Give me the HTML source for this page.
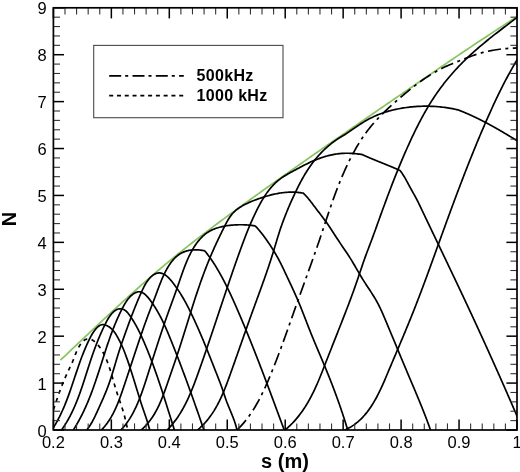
<!DOCTYPE html>
<html><head><meta charset="utf-8"><title>N vs s</title>
<style>html,body{margin:0;padding:0;background:#fff;width:520px;height:472px;overflow:hidden}svg{display:block}</style>
</head><body>
<svg width="520" height="472" viewBox="0 0 520 472">
<defs><clipPath id="cp"><rect x="53.4" y="7.8" width="463.6" height="422.2"/></clipPath></defs>
<g clip-path="url(#cp)" fill="none" stroke="#000" stroke-width="1.7" stroke-linejoin="round">
<path d="M60.50,360.16 L62.80,357.98 L65.10,355.79 L67.40,353.61 L69.70,351.42 L71.99,349.24 L74.29,347.06 L76.59,344.88 L78.89,342.70 L81.19,340.53 L83.49,338.35 L85.79,336.18 L88.09,334.01 L90.39,331.85 L92.69,329.68 L94.98,327.52 L97.28,325.37 L99.58,323.22 L101.88,321.07 L104.18,318.93 L106.48,316.79 L108.78,314.66 L111.08,312.53 L113.38,310.41 L115.68,308.29 L117.97,306.18 L120.27,304.08 L122.57,301.98 L124.87,299.89 L127.17,297.81 L129.47,295.73 L131.77,293.66 L134.07,291.60 L136.37,289.55 L138.67,287.50 L140.96,285.47 L143.26,283.44 L145.56,281.42 L147.86,279.41 L150.16,277.41 L152.46,275.42 L154.76,273.44 L157.06,271.47 L159.36,269.51 L161.66,267.57 L163.95,265.63 L166.25,263.70 L168.55,261.79 L170.85,259.89 L173.15,258.00 L175.45,256.12 L177.75,254.25 L180.05,252.39 L182.35,250.55 L184.65,248.71 L186.94,246.89 L189.24,245.07 L191.54,243.27 L193.84,241.47 L196.14,239.68 L198.44,237.90 L200.74,236.13 L203.04,234.37 L205.34,232.62 L207.64,230.87 L209.93,229.13 L212.23,227.40 L214.53,225.68 L216.83,223.96 L219.13,222.25 L221.43,220.54 L223.73,218.84 L226.03,217.15 L228.33,215.46 L230.63,213.77 L232.92,212.09 L235.22,210.42 L237.52,208.75 L239.82,207.08 L242.12,205.41 L244.42,203.75 L246.72,202.10 L249.02,200.44 L251.32,198.79 L253.62,197.14 L255.91,195.49 L258.21,193.85 L260.51,192.20 L262.81,190.56 L265.11,188.92 L267.41,187.29 L269.71,185.65 L272.01,184.02 L274.31,182.39 L276.61,180.76 L278.90,179.13 L281.20,177.50 L283.50,175.88 L285.80,174.26 L288.10,172.64 L290.40,171.02 L292.70,169.40 L295.00,167.79 L297.30,166.17 L299.60,164.56 L301.89,162.95 L304.19,161.34 L306.49,159.73 L308.79,158.12 L311.09,156.52 L313.39,154.92 L315.69,153.31 L317.99,151.71 L320.29,150.11 L322.59,148.51 L324.88,146.91 L327.18,145.32 L329.48,143.72 L331.78,142.13 L334.08,140.53 L336.38,138.94 L338.68,137.35 L340.98,135.76 L343.28,134.17 L345.58,132.58 L347.87,130.99 L350.17,129.40 L352.47,127.81 L354.77,126.23 L357.07,124.64 L359.37,123.06 L361.67,121.47 L363.97,119.89 L366.27,118.30 L368.57,116.72 L370.86,115.14 L373.16,113.55 L375.46,111.97 L377.76,110.39 L380.06,108.81 L382.36,107.23 L384.66,105.65 L386.96,104.06 L389.26,102.48 L391.56,100.90 L393.85,99.32 L396.15,97.74 L398.45,96.16 L400.75,94.58 L403.05,93.00 L405.35,91.42 L407.65,89.84 L409.95,88.26 L412.25,86.68 L414.55,85.10 L416.84,83.53 L419.14,81.95 L421.44,80.37 L423.74,78.80 L426.04,77.23 L428.34,75.65 L430.64,74.08 L432.94,72.51 L435.24,70.94 L437.54,69.38 L439.83,67.81 L442.13,66.25 L444.43,64.68 L446.73,63.12 L449.03,61.56 L451.33,60.01 L453.63,58.45 L455.93,56.90 L458.23,55.35 L460.53,53.80 L462.82,52.25 L465.12,50.71 L467.42,49.17 L469.72,47.63 L472.02,46.09 L474.32,44.56 L476.62,43.03 L478.92,41.50 L481.22,39.98 L483.52,38.46 L485.81,36.94 L488.11,35.42 L490.41,33.91 L492.71,32.40 L495.01,30.89 L497.31,29.39 L499.61,27.89 L501.91,26.40 L504.21,24.91 L506.51,23.42 L508.80,21.94 L511.10,20.46 L513.40,18.98 L515.70,17.51 L518.00,16.04" stroke="#86c45e" stroke-width="1.7"/>
<path d="M51.80,429.99 L52.24,429.34 L52.67,428.68 L53.10,428.02 L53.53,427.36 L53.95,426.69 L54.36,426.02 L54.78,425.35 L55.18,424.67 L55.59,423.99 L55.98,423.30 L56.38,422.61 L56.77,421.92 L57.15,421.23 L57.53,420.53 L57.91,419.83 L58.28,419.13 L58.65,418.43 L59.02,417.72 L59.38,417.01 L59.74,416.30 L60.09,415.58 L60.44,414.86 L60.79,414.14 L61.13,413.42 L61.47,412.70 L61.80,411.97 L62.14,411.24 L62.47,410.51 L62.79,409.78 L63.11,409.05 L63.43,408.31 L63.75,407.57 L64.06,406.83 L64.38,406.09 L64.68,405.35 L64.99,404.61 L65.29,403.87 L65.59,403.12 L65.89,402.37 L66.18,401.63 L66.47,400.88 L66.76,400.13 L67.05,399.38 L67.34,398.63 L67.62,397.88 L67.90,397.13 L68.18,396.37 L68.45,395.62 L68.73,394.87 L69.00,394.11 L69.27,393.36 L69.54,392.60 L69.81,391.85 L70.07,391.10 L70.33,390.34 L70.60,389.59 L70.86,388.83 L71.12,388.08 L71.37,387.33 L71.63,386.57 L71.89,385.82 L72.14,385.07 L72.39,384.32 L72.64,383.57 L72.89,382.82 L73.14,382.07 L73.39,381.32 L73.64,380.57 L73.89,379.83 L74.14,379.08 L74.38,378.33 L74.63,377.59 L74.88,376.84 L75.12,376.10 L75.37,375.35 L75.62,374.61 L75.87,373.86 L76.11,373.12 L76.36,372.38 L76.61,371.63 L76.86,370.89 L77.11,370.15 L77.36,369.41 L77.61,368.67 L77.86,367.92 L78.12,367.18 L78.37,366.44 L78.63,365.70 L78.89,364.96 L79.14,364.22 L79.41,363.48 L79.67,362.74 L79.93,361.99 L80.20,361.25 L80.47,360.51 L80.74,359.77 L81.01,359.03 L81.29,358.29 L81.56,357.55 L81.84,356.81 L82.13,356.06 L82.41,355.32 L82.70,354.58 L82.99,353.84 L83.29,353.10 L83.58,352.35 L83.88,351.61 L84.19,350.87 L84.50,350.12 L84.81,349.38 L85.12,348.63 L85.44,347.89 L85.76,347.14 L86.09,346.40 L86.42,345.65 L86.75,344.90 L87.09,344.16 L87.43,343.41 L87.78,342.66 L88.13,341.91 L88.49,341.16 L88.85,340.41 L89.21,339.66 L89.59,338.91 L89.96,338.16 L90.34,337.41 L90.73,336.67 L91.13,335.93 L91.54,335.20 L91.95,334.48 L92.37,333.76 L92.80,333.06 L93.25,332.37 L93.70,331.69 L94.16,331.03 L94.64,330.38 L95.13,329.75 L95.63,329.15 L96.15,328.56 L96.68,328.00 L97.23,327.45 L97.79,326.94 L98.37,326.45 L98.96,326.00 L99.57,325.59 L100.20,325.25 L100.85,324.98 L101.52,324.78 L102.20,324.67 L102.90,324.64 L103.61,324.67 L104.32,324.78 L105.04,324.94 L105.76,325.17 L106.48,325.45 L107.20,325.78 L107.91,326.15 L108.61,326.57 L109.30,327.03 L109.97,327.52 L110.63,328.04 L111.26,328.58 L111.87,329.14 L112.45,329.73 L113.01,330.32 L113.53,330.93 L114.02,331.54 L114.49,332.16 L114.94,332.80 L115.37,333.44 L115.79,334.08 L116.19,334.74 L116.58,335.40 L116.97,336.07 L117.35,336.75 L117.73,337.44 L118.11,338.13 L118.49,338.82 L118.87,339.53 L119.24,340.23 L119.61,340.95 L119.97,341.67 L120.33,342.39 L120.69,343.11 L121.04,343.85 L121.38,344.58 L121.72,345.32 L122.05,346.06 L122.38,346.80 L122.70,347.55 L123.01,348.30 L123.32,349.05 L123.63,349.80 L123.93,350.55 L124.23,351.30 L124.52,352.06 L124.81,352.81 L125.10,353.57 L125.39,354.32 L125.67,355.08 L125.95,355.83 L126.23,356.59 L126.51,357.34 L126.78,358.10 L127.05,358.85 L127.32,359.61 L127.59,360.36 L127.85,361.12 L128.11,361.87 L128.37,362.62 L128.63,363.38 L128.89,364.13 L129.14,364.89 L129.39,365.64 L129.65,366.40 L129.90,367.15 L130.14,367.91 L130.39,368.66 L130.64,369.42 L130.88,370.17 L131.12,370.93 L131.36,371.68 L131.60,372.43 L131.84,373.19 L132.08,373.94 L132.32,374.70 L132.56,375.45 L132.79,376.21 L133.03,376.96 L133.26,377.72 L133.49,378.47 L133.72,379.23 L133.96,379.98 L134.19,380.74 L134.42,381.49 L134.65,382.25 L134.88,383.00 L135.11,383.76 L135.34,384.51 L135.57,385.27 L135.80,386.02 L136.03,386.78 L136.26,387.53 L136.49,388.29 L136.72,389.04 L136.95,389.80 L137.18,390.55 L137.42,391.31 L137.65,392.07 L137.88,392.82 L138.11,393.58 L138.35,394.33 L138.58,395.09 L138.82,395.85 L139.05,396.60 L139.29,397.36 L139.53,398.11 L139.77,398.87 L140.01,399.63 L140.25,400.38 L140.49,401.14 L140.74,401.90 L140.98,402.66 L141.23,403.41 L141.48,404.17 L141.73,404.93 L141.98,405.68 L142.23,406.44 L142.48,407.20 L142.74,407.96 L143.00,408.72 L143.26,409.47 L143.51,410.23 L143.77,410.99 L144.03,411.75 L144.29,412.51 L144.55,413.27 L144.81,414.03 L145.07,414.78 L145.32,415.54 L145.58,416.30 L145.83,417.06 L146.08,417.82 L146.33,418.58 L146.58,419.34 L146.83,420.10 L147.07,420.86 L147.31,421.62 L147.55,422.38 L147.78,423.14 L148.01,423.91 L148.24,424.67 L148.46,425.43 L148.68,426.19 L148.89,426.95 L149.10,427.71 L149.30,428.48 L149.50,429.24 L149.70,430.00"/>
<path d="M61.51,430.01 L62.04,429.26 L62.57,428.51 L63.09,427.75 L63.60,426.99 L64.10,426.23 L64.60,425.46 L65.09,424.70 L65.58,423.92 L66.06,423.15 L66.53,422.37 L66.99,421.59 L67.45,420.80 L67.91,420.01 L68.35,419.22 L68.79,418.42 L69.23,417.63 L69.66,416.83 L70.08,416.02 L70.50,415.22 L70.91,414.41 L71.32,413.60 L71.72,412.78 L72.11,411.96 L72.50,411.14 L72.89,410.32 L73.27,409.50 L73.65,408.67 L74.02,407.84 L74.39,407.01 L74.75,406.18 L75.11,405.34 L75.47,404.51 L75.82,403.67 L76.17,402.83 L76.51,401.98 L76.85,401.14 L77.18,400.29 L77.52,399.44 L77.85,398.59 L78.17,397.74 L78.49,396.89 L78.81,396.04 L79.13,395.18 L79.44,394.32 L79.75,393.46 L80.06,392.60 L80.37,391.74 L80.67,390.88 L80.97,390.02 L81.27,389.15 L81.57,388.29 L81.86,387.42 L82.16,386.56 L82.45,385.69 L82.74,384.82 L83.02,383.95 L83.31,383.08 L83.60,382.21 L83.88,381.34 L84.16,380.47 L84.45,379.60 L84.73,378.72 L85.01,377.85 L85.29,376.98 L85.57,376.11 L85.84,375.23 L86.12,374.36 L86.40,373.49 L86.68,372.62 L86.96,371.74 L87.23,370.87 L87.51,370.00 L87.79,369.13 L88.07,368.25 L88.35,367.38 L88.63,366.51 L88.91,365.64 L89.19,364.77 L89.48,363.90 L89.76,363.04 L90.04,362.17 L90.33,361.30 L90.62,360.44 L90.91,359.57 L91.20,358.71 L91.49,357.84 L91.79,356.98 L92.08,356.12 L92.38,355.26 L92.68,354.40 L92.98,353.54 L93.28,352.68 L93.59,351.83 L93.90,350.97 L94.21,350.12 L94.52,349.26 L94.83,348.41 L95.15,347.56 L95.47,346.71 L95.79,345.86 L96.12,345.01 L96.44,344.16 L96.77,343.32 L97.10,342.47 L97.44,341.63 L97.78,340.78 L98.12,339.94 L98.46,339.10 L98.81,338.26 L99.16,337.42 L99.51,336.58 L99.86,335.75 L100.22,334.91 L100.59,334.08 L100.95,333.24 L101.32,332.41 L101.69,331.58 L102.07,330.75 L102.45,329.92 L102.83,329.09 L103.22,328.26 L103.61,327.44 L104.00,326.61 L104.40,325.79 L104.80,324.97 L105.21,324.14 L105.62,323.32 L106.03,322.50 L106.45,321.69 L106.88,320.88 L107.32,320.07 L107.77,319.27 L108.23,318.47 L108.71,317.69 L109.21,316.92 L109.73,316.16 L110.28,315.41 L110.84,314.68 L111.44,313.96 L112.06,313.27 L112.72,312.59 L113.41,311.93 L114.14,311.30 L114.90,310.70 L115.69,310.15 L116.53,309.67 L117.39,309.28 L118.29,309.01 L119.22,308.85 L120.15,308.80 L121.09,308.86 L122.01,309.01 L122.89,309.25 L123.73,309.58 L124.51,309.97 L125.23,310.44 L125.91,310.96 L126.54,311.53 L127.14,312.14 L127.71,312.79 L128.25,313.46 L128.78,314.16 L129.30,314.87 L129.81,315.58 L130.32,316.30 L130.82,317.03 L131.32,317.76 L131.81,318.51 L132.29,319.25 L132.77,320.01 L133.25,320.77 L133.71,321.53 L134.18,322.30 L134.64,323.08 L135.09,323.86 L135.54,324.65 L135.98,325.44 L136.42,326.24 L136.85,327.04 L137.28,327.84 L137.71,328.65 L138.13,329.47 L138.55,330.28 L138.96,331.11 L139.37,331.93 L139.78,332.76 L140.18,333.59 L140.58,334.42 L140.97,335.26 L141.36,336.09 L141.75,336.94 L142.13,337.78 L142.51,338.62 L142.89,339.47 L143.26,340.32 L143.64,341.17 L144.01,342.02 L144.37,342.87 L144.74,343.72 L145.10,344.57 L145.46,345.43 L145.81,346.28 L146.17,347.13 L146.52,347.99 L146.87,348.84 L147.22,349.69 L147.57,350.55 L147.91,351.40 L148.25,352.25 L148.59,353.11 L148.93,353.96 L149.27,354.82 L149.60,355.67 L149.93,356.53 L150.26,357.38 L150.59,358.23 L150.92,359.09 L151.25,359.94 L151.57,360.80 L151.89,361.65 L152.21,362.51 L152.53,363.37 L152.85,364.22 L153.16,365.08 L153.48,365.93 L153.79,366.79 L154.10,367.64 L154.41,368.50 L154.72,369.36 L155.02,370.21 L155.33,371.07 L155.63,371.93 L155.94,372.79 L156.24,373.64 L156.54,374.50 L156.83,375.36 L157.13,376.22 L157.43,377.07 L157.72,377.93 L158.02,378.79 L158.31,379.65 L158.60,380.51 L158.89,381.37 L159.18,382.23 L159.47,383.09 L159.76,383.95 L160.05,384.81 L160.33,385.67 L160.62,386.53 L160.90,387.39 L161.19,388.25 L161.47,389.11 L161.75,389.98 L162.03,390.84 L162.31,391.70 L162.59,392.56 L162.87,393.43 L163.15,394.29 L163.43,395.15 L163.71,396.02 L163.98,396.88 L164.26,397.75 L164.54,398.61 L164.81,399.48 L165.09,400.34 L165.36,401.21 L165.64,402.08 L165.91,402.94 L166.18,403.81 L166.46,404.68 L166.73,405.54 L167.00,406.41 L167.28,407.28 L167.55,408.15 L167.82,409.02 L168.09,409.89 L168.37,410.76 L168.64,411.63 L168.91,412.50 L169.18,413.37 L169.46,414.24 L169.73,415.11 L170.00,415.99 L170.27,416.86 L170.55,417.73 L170.82,418.61 L171.09,419.48 L171.37,420.36 L171.64,421.23 L171.91,422.11 L172.19,422.98 L172.46,423.86 L172.74,424.73 L173.01,425.61 L173.29,426.49 L173.57,427.37 L173.84,428.25 L174.12,429.12 L174.40,430.00"/>
<path d="M73.30,430.00 L73.87,429.12 L74.43,428.23 L74.98,427.33 L75.52,426.44 L76.06,425.54 L76.60,424.64 L77.12,423.74 L77.64,422.83 L78.15,421.93 L78.66,421.01 L79.16,420.10 L79.66,419.19 L80.15,418.27 L80.63,417.35 L81.11,416.43 L81.58,415.50 L82.05,414.58 L82.51,413.65 L82.97,412.71 L83.42,411.78 L83.87,410.84 L84.31,409.91 L84.74,408.96 L85.18,408.02 L85.60,407.08 L86.03,406.13 L86.44,405.18 L86.86,404.23 L87.27,403.27 L87.67,402.32 L88.07,401.36 L88.47,400.40 L88.86,399.44 L89.25,398.47 L89.64,397.51 L90.02,396.54 L90.40,395.57 L90.77,394.60 L91.15,393.62 L91.51,392.65 L91.88,391.67 L92.24,390.69 L92.60,389.71 L92.96,388.73 L93.31,387.75 L93.66,386.76 L94.01,385.78 L94.36,384.79 L94.70,383.81 L95.05,382.82 L95.39,381.83 L95.72,380.84 L96.06,379.85 L96.39,378.85 L96.73,377.86 L97.06,376.87 L97.39,375.87 L97.71,374.88 L98.04,373.88 L98.36,372.89 L98.69,371.89 L99.01,370.90 L99.33,369.90 L99.65,368.90 L99.97,367.91 L100.29,366.91 L100.61,365.91 L100.93,364.92 L101.25,363.92 L101.56,362.92 L101.88,361.93 L102.20,360.93 L102.52,359.94 L102.83,358.94 L103.15,357.95 L103.47,356.95 L103.79,355.96 L104.11,354.97 L104.43,353.97 L104.75,352.98 L105.07,351.99 L105.39,351.00 L105.71,350.01 L106.04,349.03 L106.36,348.04 L106.69,347.05 L107.01,346.07 L107.34,345.09 L107.67,344.11 L108.01,343.13 L108.34,342.15 L108.68,341.17 L109.02,340.19 L109.36,339.22 L109.70,338.24 L110.05,337.27 L110.39,336.29 L110.75,335.32 L111.10,334.35 L111.46,333.38 L111.82,332.41 L112.18,331.45 L112.55,330.48 L112.92,329.51 L113.30,328.55 L113.68,327.58 L114.06,326.62 L114.45,325.66 L114.84,324.69 L115.24,323.73 L115.64,322.77 L116.04,321.81 L116.45,320.85 L116.87,319.89 L117.29,318.94 L117.71,317.98 L118.15,317.02 L118.58,316.07 L119.02,315.11 L119.47,314.16 L119.93,313.20 L120.39,312.25 L120.85,311.30 L121.33,310.34 L121.81,309.39 L122.29,308.44 L122.78,307.49 L123.29,306.54 L123.80,305.60 L124.32,304.67 L124.86,303.74 L125.42,302.83 L125.99,301.93 L126.58,301.05 L127.19,300.18 L127.83,299.33 L128.49,298.51 L129.17,297.71 L129.88,296.94 L130.62,296.19 L131.39,295.48 L132.20,294.80 L133.03,294.16 L133.89,293.57 L134.77,293.04 L135.66,292.59 L136.56,292.22 L137.46,291.94 L138.35,291.77 L139.24,291.73 L140.11,291.81 L140.97,292.01 L141.81,292.33 L142.63,292.74 L143.44,293.23 L144.23,293.79 L145.01,294.41 L145.77,295.09 L146.52,295.82 L147.25,296.60 L147.97,297.41 L148.68,298.25 L149.37,299.12 L150.05,300.01 L150.71,300.91 L151.36,301.82 L152.01,302.73 L152.63,303.65 L153.25,304.56 L153.86,305.47 L154.45,306.39 L155.03,307.30 L155.61,308.22 L156.17,309.13 L156.72,310.05 L157.26,310.97 L157.80,311.89 L158.32,312.81 L158.83,313.73 L159.34,314.66 L159.84,315.58 L160.33,316.50 L160.81,317.43 L161.29,318.36 L161.76,319.28 L162.22,320.21 L162.67,321.14 L163.12,322.07 L163.56,323.00 L164.00,323.94 L164.43,324.87 L164.86,325.81 L165.28,326.74 L165.70,327.68 L166.11,328.62 L166.52,329.56 L166.92,330.50 L167.33,331.44 L167.73,332.38 L168.12,333.33 L168.52,334.27 L168.91,335.22 L169.30,336.16 L169.69,337.11 L170.08,338.06 L170.46,339.01 L170.85,339.96 L171.23,340.92 L171.62,341.87 L172.00,342.83 L172.38,343.78 L172.77,344.74 L173.15,345.70 L173.53,346.66 L173.91,347.62 L174.29,348.58 L174.67,349.55 L175.05,350.51 L175.43,351.48 L175.81,352.44 L176.19,353.41 L176.57,354.38 L176.94,355.34 L177.32,356.31 L177.69,357.28 L178.07,358.25 L178.44,359.23 L178.82,360.20 L179.19,361.17 L179.56,362.15 L179.94,363.12 L180.31,364.10 L180.68,365.07 L181.05,366.05 L181.42,367.03 L181.79,368.01 L182.16,368.99 L182.53,369.96 L182.89,370.94 L183.26,371.93 L183.63,372.91 L183.99,373.89 L184.36,374.87 L184.72,375.85 L185.09,376.83 L185.45,377.82 L185.81,378.80 L186.18,379.79 L186.54,380.77 L186.90,381.76 L187.26,382.74 L187.62,383.73 L187.98,384.71 L188.34,385.70 L188.70,386.68 L189.06,387.67 L189.41,388.66 L189.77,389.64 L190.13,390.63 L190.48,391.62 L190.84,392.60 L191.19,393.59 L191.54,394.58 L191.90,395.57 L192.25,396.55 L192.60,397.54 L192.95,398.53 L193.30,399.52 L193.66,400.50 L194.00,401.49 L194.35,402.48 L194.70,403.46 L195.05,404.45 L195.40,405.44 L195.74,406.42 L196.09,407.41 L196.44,408.40 L196.78,409.38 L197.13,410.37 L197.47,411.35 L197.81,412.34 L198.16,413.32 L198.50,414.31 L198.84,415.29 L199.18,416.28 L199.52,417.26 L199.86,418.24 L200.20,419.23 L200.54,420.21 L200.88,421.19 L201.21,422.17 L201.55,423.15 L201.89,424.13 L202.22,425.11 L202.56,426.09 L202.89,427.07 L203.22,428.04 L203.56,429.02 L203.89,430.00"/>
<path d="M86.80,430.01 L87.55,429.02 L88.27,428.03 L88.97,427.03 L89.64,426.02 L90.28,425.02 L90.90,424.00 L91.50,422.99 L92.09,421.97 L92.65,420.94 L93.20,419.91 L93.74,418.88 L94.26,417.84 L94.78,416.80 L95.28,415.75 L95.78,414.70 L96.27,413.65 L96.76,412.59 L97.24,411.53 L97.73,410.47 L98.21,409.40 L98.70,408.33 L99.19,407.26 L99.67,406.18 L100.16,405.10 L100.65,404.02 L101.13,402.93 L101.62,401.85 L102.10,400.76 L102.58,399.66 L103.06,398.57 L103.53,397.47 L104.00,396.37 L104.47,395.26 L104.93,394.16 L105.39,393.05 L105.84,391.94 L106.29,390.83 L106.74,389.72 L107.17,388.60 L107.60,387.49 L108.02,386.37 L108.44,385.25 L108.85,384.13 L109.25,383.00 L109.64,381.88 L110.03,380.75 L110.41,379.63 L110.78,378.50 L111.15,377.37 L111.51,376.24 L111.87,375.11 L112.22,373.98 L112.57,372.84 L112.92,371.71 L113.26,370.58 L113.60,369.44 L113.94,368.31 L114.28,367.17 L114.62,366.04 L114.95,364.90 L115.29,363.76 L115.62,362.63 L115.96,361.49 L116.30,360.35 L116.64,359.22 L116.98,358.08 L117.32,356.95 L117.67,355.81 L118.02,354.67 L118.37,353.54 L118.73,352.40 L119.09,351.27 L119.45,350.13 L119.82,349.00 L120.20,347.87 L120.57,346.73 L120.95,345.60 L121.34,344.47 L121.72,343.34 L122.11,342.22 L122.50,341.09 L122.89,339.96 L123.29,338.84 L123.68,337.71 L124.08,336.59 L124.48,335.47 L124.88,334.35 L125.28,333.23 L125.68,332.12 L126.08,331.00 L126.48,329.89 L126.88,328.78 L127.28,327.67 L127.68,326.56 L128.09,325.45 L128.49,324.35 L128.90,323.24 L129.30,322.14 L129.71,321.04 L130.12,319.94 L130.53,318.84 L130.94,317.74 L131.36,316.64 L131.78,315.54 L132.19,314.44 L132.62,313.34 L133.04,312.25 L133.47,311.15 L133.90,310.05 L134.33,308.96 L134.77,307.86 L135.21,306.76 L135.65,305.67 L136.10,304.57 L136.55,303.47 L137.00,302.37 L137.46,301.28 L137.93,300.18 L138.39,299.08 L138.87,297.98 L139.34,296.87 L139.82,295.77 L140.31,294.67 L140.80,293.56 L141.30,292.46 L141.80,291.35 L142.31,290.24 L142.83,289.14 L143.36,288.03 L143.90,286.94 L144.46,285.85 L145.04,284.77 L145.65,283.71 L146.29,282.66 L146.96,281.64 L147.66,280.64 L148.40,279.66 L149.19,278.71 L150.01,277.80 L150.88,276.93 L151.78,276.11 L152.71,275.36 L153.67,274.69 L154.66,274.12 L155.66,273.64 L156.69,273.27 L157.73,273.03 L158.78,272.93 L159.83,272.95 L160.88,273.10 L161.92,273.36 L162.95,273.73 L163.95,274.20 L164.91,274.76 L165.85,275.39 L166.76,276.10 L167.64,276.86 L168.50,277.68 L169.34,278.55 L170.15,279.45 L170.95,280.38 L171.73,281.32 L172.50,282.28 L173.25,283.24 L173.99,284.21 L174.72,285.18 L175.44,286.16 L176.15,287.14 L176.84,288.13 L177.53,289.12 L178.20,290.12 L178.86,291.12 L179.52,292.13 L180.16,293.14 L180.79,294.16 L181.42,295.18 L182.04,296.20 L182.64,297.23 L183.24,298.26 L183.83,299.29 L184.42,300.33 L185.00,301.37 L185.57,302.41 L186.13,303.46 L186.69,304.51 L187.24,305.56 L187.79,306.61 L188.33,307.67 L188.87,308.73 L189.40,309.79 L189.93,310.85 L190.45,311.91 L190.97,312.98 L191.49,314.04 L192.00,315.11 L192.51,316.17 L193.02,317.24 L193.52,318.31 L194.02,319.39 L194.52,320.46 L195.02,321.53 L195.51,322.61 L196.00,323.68 L196.48,324.76 L196.97,325.84 L197.45,326.92 L197.93,328.00 L198.40,329.08 L198.88,330.16 L199.35,331.25 L199.82,332.33 L200.28,333.42 L200.75,334.50 L201.21,335.59 L201.67,336.68 L202.13,337.77 L202.59,338.86 L203.05,339.95 L203.50,341.05 L203.95,342.14 L204.41,343.23 L204.86,344.33 L205.30,345.42 L205.75,346.52 L206.20,347.62 L206.64,348.72 L207.09,349.81 L207.53,350.91 L207.97,352.02 L208.41,353.12 L208.86,354.22 L209.30,355.32 L209.74,356.42 L210.18,357.53 L210.61,358.63 L211.05,359.74 L211.49,360.85 L211.93,361.95 L212.37,363.06 L212.80,364.17 L213.24,365.28 L213.68,366.38 L214.12,367.49 L214.56,368.60 L215.00,369.71 L215.44,370.82 L215.88,371.94 L216.32,373.05 L216.76,374.16 L217.20,375.27 L217.63,376.39 L218.07,377.50 L218.51,378.61 L218.94,379.73 L219.37,380.84 L219.80,381.96 L220.22,383.07 L220.64,384.19 L221.05,385.30 L221.46,386.42 L221.86,387.54 L222.25,388.65 L222.64,389.77 L223.02,390.89 L223.39,392.00 L223.76,393.12 L224.12,394.24 L224.49,395.36 L224.85,396.48 L225.22,397.59 L225.61,398.71 L226.00,399.83 L226.41,400.95 L226.82,402.07 L227.26,403.18 L227.70,404.30 L228.15,405.42 L228.60,406.54 L229.07,407.66 L229.53,408.78 L230.00,409.89 L230.47,411.01 L230.93,412.13 L231.39,413.25 L231.85,414.37 L232.31,415.48 L232.75,416.60 L233.19,417.72 L233.61,418.84 L234.02,419.95 L234.42,421.07 L234.80,422.19 L235.17,423.30 L235.51,424.42 L235.84,425.54 L236.14,426.65 L236.42,427.77 L236.67,428.88 L236.90,430.00"/>
<path d="M101.41,430.01 L101.93,429.48 L102.43,428.94 L102.93,428.40 L103.43,427.85 L103.91,427.30 L104.39,426.74 L104.86,426.18 L105.32,425.61 L105.77,425.04 L106.22,424.46 L106.66,423.88 L107.10,423.29 L107.52,422.70 L107.94,422.11 L108.36,421.50 L108.77,420.90 L109.17,420.29 L109.56,419.68 L109.95,419.06 L110.34,418.44 L110.71,417.82 L111.09,417.19 L111.45,416.56 L111.81,415.92 L112.17,415.28 L112.52,414.64 L112.87,413.99 L113.21,413.35 L113.54,412.69 L113.87,412.04 L114.20,411.38 L114.52,410.72 L114.84,410.06 L115.15,409.39 L115.46,408.72 L115.77,408.05 L116.07,407.38 L116.37,406.70 L116.66,406.02 L116.95,405.34 L117.24,404.66 L117.52,403.98 L117.80,403.29 L118.08,402.60 L118.35,401.91 L118.62,401.22 L118.89,400.53 L119.16,399.84 L119.42,399.14 L119.68,398.44 L119.94,397.75 L120.20,397.05 L120.45,396.35 L120.70,395.65 L120.95,394.95 L121.20,394.24 L121.45,393.54 L121.70,392.84 L121.94,392.14 L122.18,391.43 L122.43,390.73 L122.67,390.02 L122.91,389.32 L123.15,388.62 L123.39,387.91 L123.62,387.21 L123.86,386.50 L124.10,385.80 L124.34,385.10 L124.57,384.39 L124.81,383.69 L125.05,382.99 L125.28,382.29 L125.52,381.58 L125.75,380.88 L125.99,380.18 L126.22,379.48 L126.45,378.78 L126.69,378.08 L126.92,377.38 L127.15,376.68 L127.39,375.98 L127.62,375.28 L127.85,374.58 L128.08,373.88 L128.32,373.18 L128.55,372.48 L128.78,371.78 L129.01,371.08 L129.24,370.38 L129.47,369.69 L129.70,368.99 L129.93,368.29 L130.16,367.59 L130.39,366.89 L130.62,366.20 L130.85,365.50 L131.08,364.80 L131.31,364.11 L131.54,363.41 L131.77,362.71 L132.00,362.02 L132.23,361.32 L132.46,360.62 L132.69,359.93 L132.92,359.23 L133.15,358.54 L133.38,357.84 L133.61,357.15 L133.84,356.45 L134.07,355.75 L134.30,355.06 L134.53,354.36 L134.76,353.67 L134.99,352.98 L135.22,352.28 L135.45,351.59 L135.68,350.89 L135.92,350.20 L136.15,349.50 L136.38,348.81 L136.61,348.12 L136.84,347.42 L137.07,346.73 L137.31,346.03 L137.54,345.34 L137.77,344.65 L138.00,343.95 L138.24,343.26 L138.47,342.57 L138.71,341.87 L138.94,341.18 L139.17,340.49 L139.41,339.79 L139.64,339.10 L139.88,338.41 L140.12,337.71 L140.35,337.02 L140.59,336.33 L140.83,335.64 L141.06,334.94 L141.30,334.25 L141.54,333.56 L141.78,332.86 L142.02,332.17 L142.26,331.48 L142.50,330.79 L142.74,330.09 L142.98,329.40 L143.23,328.71 L143.47,328.02 L143.71,327.32 L143.96,326.63 L144.20,325.94 L144.45,325.25 L144.70,324.55 L144.94,323.86 L145.19,323.17 L145.44,322.48 L145.69,321.78 L145.94,321.09 L146.19,320.40 L146.45,319.70 L146.70,319.01 L146.95,318.32 L147.21,317.63 L147.46,316.93 L147.72,316.24 L147.98,315.55 L148.24,314.85 L148.50,314.16 L148.76,313.47 L149.02,312.77 L149.29,312.08 L149.55,311.39 L149.82,310.69 L150.08,310.00 L150.35,309.31 L150.62,308.61 L150.89,307.92 L151.16,307.22 L151.43,306.53 L151.70,305.84 L151.97,305.14 L152.24,304.45 L152.51,303.75 L152.77,303.06 L153.04,302.36 L153.31,301.67 L153.58,300.97 L153.85,300.28 L154.11,299.58 L154.38,298.89 L154.64,298.19 L154.91,297.50 L155.17,296.80 L155.43,296.11 L155.69,295.41 L155.95,294.71 L156.21,294.02 L156.47,293.32 L156.72,292.63 L156.98,291.93 L157.24,291.24 L157.49,290.54 L157.75,289.85 L158.01,289.16 L158.27,288.46 L158.53,287.77 L158.79,287.08 L159.05,286.39 L159.31,285.70 L159.58,285.01 L159.85,284.32 L160.11,283.64 L160.38,282.95 L160.66,282.27 L160.93,281.58 L161.21,280.90 L161.49,280.22 L161.78,279.54 L162.07,278.86 L162.36,278.19 L162.65,277.51 L162.95,276.84 L163.25,276.17 L163.56,275.50 L163.87,274.84 L164.19,274.17 L164.51,273.51 L164.83,272.85 L165.17,272.19 L165.50,271.53 L165.84,270.88 L166.19,270.23 L166.54,269.58 L166.90,268.94 L167.27,268.29 L167.64,267.65 L168.02,267.02 L168.40,266.38 L168.80,265.75 L169.20,265.13 L169.60,264.51 L170.02,263.90 L170.44,263.30 L170.87,262.70 L171.31,262.11 L171.76,261.53 L172.21,260.96 L172.67,260.39 L173.15,259.84 L173.63,259.29 L174.12,258.76 L174.62,258.24 L175.13,257.73 L175.65,257.23 L176.18,256.75 L176.72,256.28 L177.27,255.82 L177.83,255.38 L178.40,254.95 L178.98,254.54 L179.57,254.14 L180.18,253.76 L180.79,253.40 L181.42,253.05 L182.06,252.72 L182.70,252.41 L183.36,252.12 L184.03,251.85 L184.71,251.59 L185.39,251.35 L186.09,251.13 L186.79,250.92 L187.50,250.74 L188.21,250.57 L188.93,250.42 L189.66,250.28 L190.39,250.17 L191.13,250.07 L191.87,249.99 L192.61,249.92 L193.36,249.87 L194.11,249.84 L194.86,249.82 L195.62,249.81 L196.37,249.83 L197.13,249.85 L197.88,249.89 L198.64,249.95 L199.39,250.01 L200.15,250.09 L200.90,250.18 L201.65,250.29 L202.39,250.40 L203.14,250.53 L203.87,250.66 L204.61,250.81 L205.05,251.28 L205.48,251.79 L205.90,252.31 L206.32,252.82 L206.73,253.34 L207.14,253.86 L207.54,254.38 L207.94,254.90 L208.34,255.42 L208.74,255.95 L209.13,256.48 L209.51,257.01 L209.90,257.54 L210.28,258.07 L210.66,258.60 L211.03,259.14 L211.40,259.67 L211.77,260.21 L212.13,260.75 L212.50,261.29 L212.86,261.83 L213.21,262.38 L213.57,262.92 L213.92,263.47 L214.27,264.02 L214.62,264.56 L214.97,265.11 L215.31,265.67 L215.65,266.22 L215.99,266.77 L216.33,267.33 L216.66,267.89 L217.00,268.45 L217.33,269.00 L217.66,269.57 L217.99,270.13 L218.32,270.69 L218.64,271.25 L218.97,271.82 L219.29,272.39 L219.61,272.95 L219.93,273.52 L220.25,274.09 L220.57,274.66 L220.89,275.24 L221.20,275.81 L221.51,276.38 L221.83,276.96 L222.14,277.53 L222.45,278.11 L222.76,278.69 L223.06,279.27 L223.37,279.85 L223.67,280.43 L223.98,281.01 L224.28,281.59 L224.58,282.18 L224.88,282.76 L225.18,283.35 L225.48,283.93 L225.77,284.52 L226.07,285.11 L226.36,285.70 L226.66,286.28 L226.95,286.87 L227.24,287.47 L227.53,288.06 L227.82,288.65 L228.10,289.24 L228.39,289.83 L228.68,290.43 L228.96,291.02 L229.25,291.62 L229.53,292.22 L229.81,292.81 L230.09,293.41 L230.37,294.01 L230.65,294.60 L230.93,295.20 L231.21,295.80 L231.49,296.40 L231.76,297.00 L232.04,297.60 L232.32,298.20 L232.59,298.81 L232.86,299.41 L233.14,300.01 L233.41,300.61 L233.68,301.22 L233.95,301.82 L234.22,302.42 L234.49,303.03 L234.76,303.63 L235.03,304.24 L235.29,304.84 L235.56,305.45 L235.83,306.05 L236.09,306.66 L236.36,307.27 L236.62,307.87 L236.89,308.48 L237.15,309.09 L237.41,309.69 L237.68,310.30 L237.94,310.91 L238.20,311.51 L238.46,312.12 L238.72,312.73 L238.98,313.34 L239.25,313.94 L239.51,314.55 L239.77,315.16 L240.02,315.77 L240.28,316.37 L240.54,316.98 L240.80,317.59 L241.06,318.20 L241.32,318.81 L241.57,319.41 L241.83,320.02 L242.09,320.63 L242.34,321.24 L242.60,321.85 L242.85,322.46 L243.11,323.06 L243.36,323.67 L243.62,324.28 L243.87,324.89 L244.13,325.50 L244.38,326.11 L244.63,326.72 L244.88,327.33 L245.14,327.94 L245.39,328.55 L245.64,329.16 L245.89,329.77 L246.14,330.37 L246.39,330.98 L246.64,331.59 L246.89,332.20 L247.14,332.81 L247.39,333.42 L247.64,334.03 L247.89,334.64 L248.14,335.25 L248.39,335.86 L248.64,336.47 L248.88,337.08 L249.13,337.70 L249.38,338.31 L249.62,338.92 L249.87,339.53 L250.12,340.14 L250.36,340.75 L250.61,341.36 L250.85,341.97 L251.10,342.58 L251.34,343.19 L251.59,343.80 L251.83,344.42 L252.08,345.03 L252.32,345.64 L252.56,346.25 L252.81,346.86 L253.05,347.47 L253.29,348.08 L253.53,348.70 L253.78,349.31 L254.02,349.92 L254.26,350.53 L254.50,351.14 L254.74,351.76 L254.98,352.37 L255.22,352.98 L255.46,353.59 L255.71,354.21 L255.95,354.82 L256.18,355.43 L256.42,356.04 L256.66,356.66 L256.90,357.27 L257.14,357.88 L257.38,358.49 L257.62,359.11 L257.86,359.72 L258.10,360.33 L258.33,360.95 L258.57,361.56 L258.81,362.17 L259.05,362.79 L259.28,363.40 L259.52,364.01 L259.76,364.63 L259.99,365.24 L260.23,365.85 L260.46,366.47 L260.70,367.08 L260.94,367.69 L261.17,368.31 L261.41,368.92 L261.64,369.54 L261.88,370.15 L262.11,370.77 L262.35,371.38 L262.58,371.99 L262.81,372.61 L263.05,373.22 L263.28,373.84 L263.52,374.45 L263.75,375.07 L263.98,375.68 L264.22,376.30 L264.45,376.91 L264.68,377.53 L264.92,378.14 L265.15,378.76 L265.38,379.37 L265.61,379.99 L265.85,380.60 L266.08,381.22 L266.31,381.83 L266.54,382.45 L266.77,383.06 L267.01,383.68 L267.24,384.29 L267.47,384.91 L267.70,385.52 L267.93,386.14 L268.16,386.76 L268.39,387.37 L268.63,387.99 L268.86,388.60 L269.09,389.22 L269.32,389.84 L269.55,390.45 L269.78,391.07 L270.01,391.68 L270.24,392.30 L270.47,392.92 L270.70,393.53 L270.93,394.15 L271.16,394.77 L271.39,395.38 L271.62,396.00 L271.85,396.62 L272.08,397.23 L272.31,397.85 L272.54,398.47 L272.77,399.08 L273.00,399.70 L273.22,400.32 L273.45,400.94 L273.68,401.55 L273.91,402.17 L274.14,402.79 L274.37,403.40 L274.60,404.02 L274.83,404.64 L275.06,405.26 L275.29,405.87 L275.51,406.49 L275.74,407.11 L275.97,407.73 L276.20,408.35 L276.43,408.96 L276.66,409.58 L276.89,410.20 L277.11,410.82 L277.34,411.44 L277.57,412.05 L277.80,412.67 L278.03,413.29 L278.26,413.91 L278.49,414.53 L278.71,415.14 L278.94,415.76 L279.17,416.38 L279.40,417.00 L279.63,417.62 L279.86,418.24 L280.08,418.86 L280.31,419.47 L280.54,420.09 L280.77,420.71 L281.00,421.33 L281.23,421.95 L281.45,422.57 L281.68,423.19 L281.91,423.81 L282.14,424.43 L282.37,425.05 L282.60,425.66 L282.83,426.28 L283.06,426.90 L283.28,427.52 L283.51,428.14 L283.74,428.76 L283.97,429.38 L284.20,430.00"/>
<path d="M120.81,430.02 L121.46,429.35 L122.10,428.67 L122.73,427.98 L123.34,427.29 L123.94,426.60 L124.52,425.90 L125.10,425.19 L125.66,424.48 L126.21,423.77 L126.74,423.05 L127.27,422.33 L127.79,421.61 L128.29,420.88 L128.79,420.14 L129.27,419.40 L129.75,418.66 L130.21,417.91 L130.67,417.16 L131.12,416.41 L131.56,415.65 L131.99,414.89 L132.42,414.12 L132.83,413.35 L133.24,412.58 L133.64,411.80 L134.04,411.03 L134.43,410.24 L134.82,409.46 L135.19,408.67 L135.57,407.88 L135.94,407.08 L136.30,406.28 L136.66,405.48 L137.02,404.68 L137.37,403.87 L137.71,403.07 L138.06,402.26 L138.40,401.44 L138.73,400.63 L139.06,399.81 L139.39,398.99 L139.71,398.16 L140.04,397.34 L140.35,396.51 L140.67,395.68 L140.98,394.85 L141.29,394.02 L141.59,393.18 L141.90,392.35 L142.20,391.51 L142.50,390.67 L142.79,389.83 L143.09,388.98 L143.38,388.14 L143.67,387.29 L143.96,386.45 L144.24,385.60 L144.52,384.75 L144.81,383.90 L145.09,383.05 L145.37,382.19 L145.65,381.34 L145.92,380.49 L146.20,379.63 L146.47,378.78 L146.75,377.92 L147.02,377.07 L147.29,376.21 L147.57,375.35 L147.84,374.49 L148.11,373.64 L148.38,372.78 L148.65,371.92 L148.92,371.06 L149.19,370.20 L149.47,369.35 L149.74,368.49 L150.01,367.63 L150.28,366.77 L150.55,365.92 L150.82,365.06 L151.09,364.20 L151.37,363.34 L151.64,362.48 L151.91,361.63 L152.18,360.77 L152.46,359.91 L152.73,359.05 L153.00,358.19 L153.27,357.34 L153.55,356.48 L153.82,355.62 L154.09,354.76 L154.37,353.91 L154.64,353.05 L154.92,352.19 L155.19,351.34 L155.47,350.48 L155.74,349.62 L156.02,348.76 L156.30,347.91 L156.57,347.05 L156.85,346.20 L157.13,345.34 L157.41,344.48 L157.68,343.63 L157.96,342.77 L158.24,341.92 L158.52,341.06 L158.80,340.20 L159.08,339.35 L159.36,338.49 L159.65,337.64 L159.93,336.78 L160.21,335.93 L160.49,335.08 L160.78,334.22 L161.06,333.37 L161.35,332.51 L161.63,331.66 L161.92,330.81 L162.21,329.95 L162.49,329.10 L162.78,328.25 L163.07,327.40 L163.36,326.55 L163.65,325.69 L163.94,324.84 L164.23,323.99 L164.53,323.14 L164.82,322.29 L165.11,321.44 L165.41,320.59 L165.70,319.74 L166.00,318.89 L166.30,318.04 L166.59,317.19 L166.89,316.34 L167.19,315.50 L167.49,314.65 L167.79,313.80 L168.10,312.95 L168.40,312.11 L168.70,311.26 L169.01,310.41 L169.31,309.57 L169.62,308.72 L169.93,307.88 L170.23,307.03 L170.54,306.19 L170.85,305.34 L171.16,304.50 L171.47,303.66 L171.78,302.81 L172.08,301.97 L172.39,301.13 L172.70,300.29 L173.01,299.45 L173.31,298.61 L173.62,297.77 L173.93,296.93 L174.23,296.09 L174.53,295.25 L174.84,294.41 L175.14,293.57 L175.44,292.74 L175.74,291.90 L176.04,291.06 L176.33,290.23 L176.63,289.39 L176.92,288.56 L177.21,287.72 L177.50,286.89 L177.79,286.05 L178.08,285.22 L178.37,284.39 L178.65,283.56 L178.94,282.73 L179.22,281.90 L179.51,281.07 L179.79,280.24 L180.08,279.41 L180.36,278.58 L180.65,277.75 L180.93,276.92 L181.22,276.10 L181.51,275.27 L181.80,274.44 L182.09,273.62 L182.39,272.79 L182.68,271.97 L182.98,271.15 L183.28,270.32 L183.58,269.50 L183.88,268.68 L184.19,267.86 L184.50,267.04 L184.82,266.22 L185.13,265.40 L185.46,264.58 L185.78,263.77 L186.11,262.95 L186.45,262.13 L186.79,261.32 L187.14,260.50 L187.49,259.69 L187.85,258.88 L188.22,258.06 L188.59,257.25 L188.97,256.44 L189.36,255.63 L189.76,254.82 L190.16,254.01 L190.58,253.20 L191.00,252.40 L191.43,251.59 L191.88,250.79 L192.33,249.99 L192.79,249.19 L193.26,248.40 L193.74,247.61 L194.23,246.82 L194.73,246.05 L195.24,245.28 L195.76,244.52 L196.29,243.77 L196.83,243.02 L197.38,242.29 L197.94,241.56 L198.51,240.85 L199.09,240.15 L199.68,239.46 L200.28,238.78 L200.89,238.12 L201.51,237.47 L202.15,236.84 L202.79,236.22 L203.44,235.62 L204.11,235.03 L204.79,234.46 L205.47,233.91 L206.17,233.39 L206.88,232.87 L207.61,232.39 L208.34,231.92 L209.08,231.47 L209.84,231.04 L210.60,230.63 L211.38,230.24 L212.16,229.86 L212.95,229.51 L213.76,229.17 L214.57,228.85 L215.39,228.54 L216.22,228.25 L217.05,227.97 L217.89,227.71 L218.74,227.46 L219.60,227.23 L220.46,227.01 L221.33,226.80 L222.20,226.60 L223.08,226.42 L223.96,226.24 L224.85,226.08 L225.74,225.92 L226.64,225.78 L227.54,225.65 L228.44,225.52 L229.35,225.41 L230.26,225.31 L231.17,225.21 L232.08,225.13 L233.00,225.05 L233.91,224.98 L234.83,224.92 L235.74,224.87 L236.66,224.83 L237.57,224.80 L238.49,224.77 L239.40,224.76 L240.32,224.75 L241.23,224.75 L242.14,224.76 L243.04,224.77 L243.95,224.80 L244.85,224.83 L245.75,224.88 L246.64,224.93 L247.53,224.99 L248.41,225.06 L249.30,225.14 L250.17,225.23 L251.04,225.34 L251.90,225.45 L252.76,225.57 L253.61,225.70 L254.46,225.84 L255.30,225.99 L255.84,226.52 L256.37,227.09 L256.88,227.66 L257.40,228.23 L257.90,228.80 L258.40,229.38 L258.89,229.95 L259.38,230.53 L259.86,231.11 L260.34,231.69 L260.81,232.28 L261.28,232.87 L261.75,233.46 L262.21,234.05 L262.67,234.64 L263.12,235.23 L263.57,235.83 L264.02,236.43 L264.46,237.03 L264.90,237.63 L265.34,238.24 L265.78,238.84 L266.21,239.45 L266.64,240.06 L267.07,240.67 L267.50,241.28 L267.92,241.90 L268.35,242.52 L268.77,243.13 L269.18,243.75 L269.60,244.38 L270.01,245.00 L270.42,245.62 L270.83,246.25 L271.23,246.88 L271.64,247.51 L272.04,248.14 L272.44,248.77 L272.84,249.41 L273.23,250.04 L273.62,250.68 L274.01,251.32 L274.40,251.96 L274.78,252.60 L275.16,253.24 L275.54,253.89 L275.92,254.53 L276.29,255.18 L276.66,255.83 L277.03,256.48 L277.39,257.13 L277.75,257.78 L278.11,258.44 L278.47,259.09 L278.82,259.75 L279.16,260.40 L279.51,261.06 L279.85,261.72 L280.19,262.38 L280.53,263.04 L280.86,263.71 L281.19,264.37 L281.52,265.04 L281.85,265.70 L282.18,266.37 L282.50,267.04 L282.83,267.71 L283.15,268.38 L283.47,269.05 L283.79,269.72 L284.11,270.40 L284.43,271.07 L284.75,271.75 L285.06,272.42 L285.38,273.10 L285.70,273.78 L286.02,274.45 L286.33,275.13 L286.65,275.81 L286.97,276.49 L287.29,277.18 L287.61,277.86 L287.93,278.54 L288.25,279.23 L288.57,279.91 L288.90,280.59 L289.22,281.28 L289.54,281.97 L289.86,282.65 L290.19,283.34 L290.51,284.03 L290.83,284.72 L291.15,285.41 L291.48,286.10 L291.80,286.79 L292.12,287.48 L292.44,288.17 L292.76,288.86 L293.08,289.55 L293.39,290.24 L293.71,290.94 L294.03,291.63 L294.34,292.32 L294.66,293.02 L294.97,293.71 L295.28,294.41 L295.59,295.10 L295.89,295.79 L296.20,296.49 L296.50,297.19 L296.81,297.88 L297.11,298.58 L297.41,299.27 L297.71,299.97 L298.00,300.66 L298.30,301.36 L298.59,302.06 L298.89,302.75 L299.18,303.45 L299.47,304.15 L299.75,304.84 L300.04,305.54 L300.32,306.24 L300.61,306.93 L300.89,307.63 L301.17,308.33 L301.45,309.02 L301.73,309.72 L302.01,310.41 L302.28,311.11 L302.56,311.81 L302.83,312.50 L303.10,313.20 L303.38,313.90 L303.65,314.59 L303.92,315.29 L304.19,315.99 L304.46,316.68 L304.73,317.38 L305.00,318.07 L305.27,318.77 L305.54,319.47 L305.81,320.16 L306.08,320.86 L306.35,321.56 L306.62,322.25 L306.89,322.95 L307.16,323.65 L307.43,324.34 L307.70,325.04 L307.97,325.74 L308.24,326.43 L308.51,327.13 L308.79,327.83 L309.06,328.52 L309.33,329.22 L309.61,329.92 L309.89,330.61 L310.16,331.31 L310.44,332.01 L310.72,332.70 L311.00,333.40 L311.28,334.10 L311.57,334.80 L311.85,335.49 L312.14,336.19 L312.42,336.89 L312.71,337.58 L312.99,338.28 L313.28,338.98 L313.57,339.68 L313.86,340.37 L314.15,341.07 L314.44,341.77 L314.73,342.47 L315.02,343.17 L315.31,343.86 L315.60,344.56 L315.90,345.26 L316.19,345.96 L316.48,346.66 L316.78,347.35 L317.07,348.05 L317.37,348.75 L317.66,349.45 L317.96,350.15 L318.25,350.85 L318.55,351.55 L318.84,352.24 L319.14,352.94 L319.43,353.64 L319.73,354.34 L320.03,355.04 L320.32,355.74 L320.62,356.44 L320.91,357.14 L321.21,357.84 L321.51,358.54 L321.80,359.24 L322.10,359.94 L322.39,360.64 L322.69,361.34 L322.98,362.04 L323.27,362.74 L323.57,363.44 L323.86,364.14 L324.15,364.84 L324.45,365.54 L324.74,366.24 L325.03,366.94 L325.32,367.64 L325.61,368.34 L325.90,369.04 L326.19,369.75 L326.48,370.45 L326.77,371.15 L327.05,371.85 L327.34,372.55 L327.62,373.26 L327.91,373.96 L328.19,374.66 L328.48,375.36 L328.76,376.07 L329.04,376.77 L329.32,377.47 L329.60,378.17 L329.88,378.88 L330.16,379.58 L330.43,380.28 L330.71,380.99 L330.98,381.69 L331.26,382.40 L331.53,383.10 L331.81,383.80 L332.08,384.51 L332.35,385.21 L332.62,385.92 L332.89,386.62 L333.16,387.33 L333.43,388.03 L333.70,388.74 L333.96,389.44 L334.23,390.15 L334.49,390.86 L334.76,391.56 L335.02,392.27 L335.28,392.97 L335.54,393.68 L335.80,394.39 L336.06,395.10 L336.32,395.80 L336.58,396.51 L336.84,397.22 L337.09,397.92 L337.35,398.63 L337.60,399.34 L337.86,400.05 L338.11,400.76 L338.36,401.47 L338.61,402.18 L338.86,402.88 L339.11,403.59 L339.36,404.30 L339.61,405.01 L339.86,405.72 L340.10,406.43 L340.35,407.14 L340.59,407.85 L340.83,408.56 L341.08,409.28 L341.32,409.99 L341.56,410.70 L341.80,411.41 L342.04,412.12 L342.27,412.83 L342.51,413.55 L342.75,414.26 L342.98,414.97 L343.21,415.68 L343.45,416.40 L343.68,417.11 L343.91,417.82 L344.14,418.54 L344.37,419.25 L344.60,419.97 L344.83,420.68 L345.05,421.40 L345.28,422.11 L345.50,422.83 L345.73,423.54 L345.95,424.26 L346.17,424.97 L346.39,425.69 L346.61,426.41 L346.83,427.12 L347.05,427.84 L347.27,428.56 L347.48,429.27 L347.70,429.99"/>
<path d="M141.10,430.02 L141.92,429.30 L142.72,428.57 L143.50,427.83 L144.27,427.08 L145.02,426.32 L145.75,425.55 L146.46,424.78 L147.16,423.99 L147.84,423.20 L148.51,422.39 L149.16,421.58 L149.80,420.76 L150.42,419.94 L151.03,419.10 L151.63,418.26 L152.21,417.41 L152.78,416.55 L153.34,415.69 L153.88,414.82 L154.42,413.94 L154.94,413.05 L155.45,412.16 L155.95,411.27 L156.44,410.37 L156.92,409.46 L157.39,408.54 L157.85,407.62 L158.30,406.70 L158.75,405.77 L159.18,404.84 L159.61,403.90 L160.03,402.96 L160.44,402.01 L160.85,401.06 L161.25,400.10 L161.64,399.14 L162.03,398.18 L162.41,397.21 L162.79,396.25 L163.16,395.27 L163.53,394.30 L163.89,393.32 L164.25,392.34 L164.61,391.36 L164.97,390.37 L165.32,389.39 L165.67,388.40 L166.02,387.41 L166.36,386.42 L166.71,385.43 L167.06,384.44 L167.40,383.44 L167.75,382.45 L168.09,381.45 L168.44,380.46 L168.78,379.46 L169.13,378.47 L169.47,377.47 L169.82,376.48 L170.17,375.48 L170.51,374.48 L170.86,373.49 L171.21,372.49 L171.55,371.49 L171.90,370.49 L172.24,369.49 L172.59,368.49 L172.93,367.50 L173.28,366.50 L173.62,365.50 L173.97,364.50 L174.31,363.50 L174.65,362.50 L174.99,361.50 L175.33,360.50 L175.67,359.50 L176.00,358.50 L176.34,357.50 L176.68,356.49 L177.01,355.49 L177.34,354.49 L177.67,353.49 L178.00,352.49 L178.33,351.49 L178.66,350.49 L178.99,349.48 L179.31,348.48 L179.64,347.48 L179.96,346.48 L180.28,345.48 L180.60,344.48 L180.92,343.47 L181.24,342.47 L181.56,341.47 L181.88,340.47 L182.19,339.47 L182.51,338.47 L182.83,337.47 L183.14,336.46 L183.46,335.46 L183.77,334.46 L184.08,333.46 L184.40,332.46 L184.71,331.46 L185.02,330.46 L185.33,329.46 L185.65,328.46 L185.96,327.46 L186.27,326.46 L186.58,325.46 L186.89,324.46 L187.20,323.46 L187.51,322.46 L187.82,321.46 L188.13,320.46 L188.45,319.46 L188.76,318.46 L189.07,317.46 L189.38,316.47 L189.69,315.47 L190.00,314.47 L190.32,313.48 L190.63,312.48 L190.94,311.48 L191.26,310.49 L191.57,309.49 L191.89,308.50 L192.20,307.50 L192.52,306.51 L192.83,305.51 L193.15,304.52 L193.47,303.53 L193.79,302.53 L194.11,301.54 L194.43,300.55 L194.75,299.56 L195.08,298.57 L195.40,297.58 L195.72,296.59 L196.05,295.60 L196.38,294.61 L196.71,293.62 L197.04,292.63 L197.37,291.64 L197.70,290.66 L198.03,289.67 L198.37,288.68 L198.70,287.70 L199.04,286.71 L199.38,285.73 L199.72,284.75 L200.06,283.76 L200.41,282.78 L200.75,281.80 L201.10,280.82 L201.45,279.84 L201.80,278.86 L202.15,277.88 L202.51,276.90 L202.87,275.92 L203.22,274.95 L203.58,273.97 L203.95,273.00 L204.31,272.02 L204.68,271.05 L205.05,270.07 L205.42,269.10 L205.79,268.13 L206.17,267.16 L206.55,266.19 L206.93,265.22 L207.31,264.25 L207.70,263.28 L208.09,262.32 L208.48,261.35 L208.87,260.39 L209.27,259.42 L209.67,258.46 L210.07,257.50 L210.47,256.54 L210.88,255.58 L211.29,254.62 L211.70,253.66 L212.12,252.70 L212.53,251.74 L212.95,250.79 L213.38,249.83 L213.80,248.88 L214.23,247.93 L214.66,246.97 L215.09,246.02 L215.52,245.07 L215.96,244.12 L216.40,243.18 L216.84,242.23 L217.28,241.28 L217.73,240.34 L218.17,239.40 L218.62,238.45 L219.07,237.51 L219.52,236.57 L219.98,235.63 L220.43,234.70 L220.89,233.76 L221.35,232.82 L221.81,231.89 L222.27,230.96 L222.73,230.02 L223.20,229.09 L223.66,228.16 L224.13,227.24 L224.60,226.31 L225.07,225.38 L225.54,224.46 L226.02,223.54 L226.51,222.63 L227.00,221.72 L227.51,220.82 L228.02,219.93 L228.56,219.06 L229.10,218.19 L229.66,217.33 L230.24,216.49 L230.85,215.66 L231.47,214.85 L232.12,214.06 L232.79,213.28 L233.49,212.53 L234.21,211.79 L234.97,211.08 L235.76,210.39 L236.57,209.72 L237.41,209.07 L238.28,208.45 L239.16,207.84 L240.07,207.26 L240.99,206.69 L241.92,206.14 L242.86,205.61 L243.80,205.09 L244.75,204.59 L245.70,204.11 L246.66,203.64 L247.61,203.18 L248.56,202.74 L249.52,202.30 L250.48,201.89 L251.44,201.48 L252.40,201.08 L253.36,200.69 L254.33,200.31 L255.29,199.94 L256.26,199.58 L257.24,199.23 L258.21,198.88 L259.19,198.54 L260.17,198.20 L261.16,197.87 L262.15,197.54 L263.14,197.22 L264.14,196.91 L265.14,196.60 L266.14,196.30 L267.14,196.01 L268.15,195.72 L269.16,195.45 L270.17,195.18 L271.18,194.92 L272.20,194.66 L273.22,194.42 L274.24,194.19 L275.26,193.97 L276.29,193.76 L277.32,193.55 L278.34,193.37 L279.38,193.19 L280.41,193.02 L281.44,192.87 L282.48,192.73 L283.51,192.60 L284.55,192.49 L285.59,192.39 L286.63,192.30 L287.67,192.23 L288.71,192.18 L289.75,192.14 L290.79,192.12 L291.83,192.11 L292.87,192.12 L293.92,192.14 L294.96,192.19 L296.00,192.25 L297.05,192.32 L298.09,192.42 L299.13,192.54 L300.18,192.67 L301.22,192.83 L302.26,193.00 L303.30,193.20 L303.99,193.83 L304.64,194.48 L305.28,195.14 L305.91,195.80 L306.52,196.47 L307.11,197.14 L307.70,197.81 L308.27,198.49 L308.83,199.17 L309.38,199.86 L309.93,200.55 L310.47,201.24 L311.00,201.93 L311.53,202.63 L312.06,203.33 L312.59,204.03 L313.11,204.73 L313.64,205.44 L314.17,206.15 L314.70,206.86 L315.23,207.57 L315.77,208.29 L316.32,209.00 L316.87,209.72 L317.42,210.44 L317.97,211.16 L318.53,211.88 L319.09,212.60 L319.64,213.33 L320.20,214.05 L320.76,214.78 L321.32,215.51 L321.87,216.24 L322.42,216.97 L322.98,217.70 L323.53,218.43 L324.07,219.17 L324.61,219.90 L325.15,220.64 L325.68,221.37 L326.21,222.11 L326.73,222.85 L327.24,223.59 L327.76,224.33 L328.26,225.07 L328.77,225.82 L329.27,226.56 L329.76,227.30 L330.26,228.05 L330.75,228.80 L331.24,229.54 L331.73,230.29 L332.21,231.04 L332.70,231.79 L333.19,232.54 L333.67,233.29 L334.16,234.04 L334.64,234.79 L335.13,235.55 L335.62,236.30 L336.11,237.05 L336.60,237.81 L337.10,238.56 L337.60,239.32 L338.10,240.08 L338.61,240.83 L339.12,241.59 L339.63,242.35 L340.14,243.11 L340.66,243.87 L341.17,244.63 L341.69,245.39 L342.21,246.15 L342.73,246.91 L343.25,247.67 L343.77,248.43 L344.29,249.19 L344.81,249.96 L345.33,250.72 L345.84,251.48 L346.35,252.25 L346.86,253.01 L347.37,253.78 L347.87,254.54 L348.37,255.31 L348.87,256.07 L349.36,256.84 L349.85,257.60 L350.33,258.37 L350.81,259.13 L351.28,259.90 L351.75,260.67 L352.21,261.43 L352.67,262.20 L353.13,262.97 L353.58,263.73 L354.04,264.50 L354.49,265.27 L354.93,266.04 L355.38,266.80 L355.83,267.57 L356.27,268.34 L356.71,269.10 L357.16,269.87 L357.60,270.64 L358.05,271.41 L358.49,272.17 L358.94,272.94 L359.39,273.71 L359.84,274.47 L360.29,275.24 L360.75,276.01 L361.21,276.77 L361.67,277.54 L362.14,278.30 L362.61,279.07 L363.09,279.83 L363.57,280.60 L364.05,281.36 L364.54,282.13 L365.04,282.89 L365.53,283.66 L366.03,284.42 L366.53,285.19 L367.03,285.96 L367.54,286.72 L368.04,287.49 L368.55,288.26 L369.06,289.03 L369.56,289.79 L370.07,290.57 L370.57,291.34 L371.07,292.11 L371.57,292.88 L372.07,293.66 L372.56,294.43 L373.05,295.21 L373.54,295.99 L374.02,296.77 L374.50,297.56 L374.97,298.34 L375.44,299.13 L375.90,299.92 L376.35,300.71 L376.80,301.51 L377.23,302.30 L377.67,303.10 L378.09,303.90 L378.50,304.71 L378.91,305.51 L379.32,306.32 L379.71,307.13 L380.11,307.94 L380.49,308.75 L380.87,309.57 L381.25,310.38 L381.62,311.20 L381.99,312.02 L382.35,312.84 L382.71,313.66 L383.07,314.49 L383.43,315.31 L383.78,316.13 L384.13,316.96 L384.48,317.78 L384.83,318.61 L385.18,319.44 L385.53,320.27 L385.88,321.09 L386.23,321.92 L386.57,322.75 L386.92,323.58 L387.27,324.40 L387.61,325.23 L387.96,326.06 L388.31,326.89 L388.65,327.72 L389.00,328.55 L389.35,329.38 L389.69,330.21 L390.04,331.04 L390.39,331.87 L390.73,332.70 L391.08,333.53 L391.43,334.36 L391.77,335.20 L392.12,336.03 L392.46,336.86 L392.81,337.69 L393.16,338.52 L393.50,339.36 L393.85,340.19 L394.19,341.02 L394.54,341.86 L394.89,342.69 L395.23,343.52 L395.58,344.36 L395.93,345.19 L396.27,346.03 L396.62,346.86 L396.97,347.69 L397.31,348.53 L397.66,349.36 L398.01,350.20 L398.35,351.03 L398.70,351.87 L399.05,352.71 L399.40,353.54 L399.75,354.38 L400.09,355.21 L400.44,356.05 L400.79,356.89 L401.14,357.72 L401.49,358.56 L401.84,359.40 L402.19,360.23 L402.54,361.07 L402.89,361.91 L403.24,362.75 L403.59,363.58 L403.94,364.42 L404.29,365.26 L404.64,366.10 L404.99,366.94 L405.35,367.78 L405.70,368.61 L406.05,369.45 L406.41,370.29 L406.76,371.13 L407.11,371.97 L407.47,372.81 L407.82,373.65 L408.18,374.49 L408.53,375.33 L408.89,376.17 L409.24,377.01 L409.60,377.85 L409.96,378.69 L410.31,379.53 L410.67,380.37 L411.02,381.21 L411.38,382.05 L411.74,382.89 L412.09,383.73 L412.45,384.57 L412.80,385.41 L413.16,386.25 L413.51,387.09 L413.87,387.93 L414.22,388.77 L414.58,389.61 L414.93,390.45 L415.29,391.29 L415.64,392.13 L415.99,392.97 L416.35,393.82 L416.70,394.66 L417.05,395.50 L417.40,396.34 L417.75,397.18 L418.10,398.02 L418.45,398.86 L418.79,399.70 L419.14,400.55 L419.49,401.39 L419.83,402.23 L420.18,403.07 L420.52,403.91 L420.86,404.75 L421.20,405.60 L421.54,406.44 L421.88,407.28 L422.22,408.12 L422.56,408.96 L422.89,409.80 L423.23,410.65 L423.56,411.49 L423.89,412.33 L424.22,413.17 L424.55,414.01 L424.88,414.85 L425.21,415.69 L425.53,416.54 L425.86,417.38 L426.18,418.22 L426.50,419.06 L426.82,419.90 L427.13,420.74 L427.45,421.59 L427.76,422.43 L428.07,423.27 L428.38,424.11 L428.69,424.95 L429.00,425.79 L429.30,426.63 L429.60,427.47 L429.91,428.31 L430.20,429.16 L430.50,430.00"/>
<path d="M167.21,430.02 L168.07,429.12 L168.93,428.21 L169.76,427.29 L170.59,426.36 L171.39,425.42 L172.19,424.48 L172.96,423.53 L173.73,422.57 L174.48,421.60 L175.21,420.63 L175.93,419.65 L176.64,418.66 L177.34,417.66 L178.03,416.66 L178.70,415.65 L179.36,414.63 L180.01,413.61 L180.64,412.58 L181.27,411.54 L181.88,410.50 L182.49,409.45 L183.08,408.40 L183.67,407.34 L184.24,406.27 L184.81,405.20 L185.36,404.13 L185.91,403.05 L186.45,401.96 L186.98,400.87 L187.50,399.78 L188.02,398.68 L188.52,397.58 L189.02,396.47 L189.52,395.36 L190.00,394.25 L190.48,393.13 L190.96,392.01 L191.42,390.89 L191.89,389.76 L192.34,388.63 L192.80,387.50 L193.24,386.36 L193.69,385.22 L194.13,384.08 L194.56,382.94 L194.99,381.80 L195.42,380.65 L195.85,379.50 L196.27,378.35 L196.69,377.20 L197.11,376.05 L197.53,374.89 L197.94,373.74 L198.35,372.59 L198.77,371.43 L199.18,370.27 L199.59,369.12 L200.00,367.96 L200.41,366.80 L200.82,365.64 L201.22,364.48 L201.63,363.33 L202.04,362.17 L202.44,361.01 L202.85,359.85 L203.25,358.68 L203.65,357.52 L204.05,356.36 L204.46,355.20 L204.86,354.04 L205.26,352.87 L205.66,351.71 L206.06,350.55 L206.46,349.38 L206.85,348.22 L207.25,347.06 L207.65,345.89 L208.04,344.73 L208.44,343.56 L208.84,342.40 L209.23,341.23 L209.63,340.06 L210.02,338.90 L210.41,337.73 L210.81,336.57 L211.20,335.40 L211.59,334.23 L211.98,333.07 L212.38,331.90 L212.77,330.73 L213.16,329.57 L213.55,328.40 L213.94,327.23 L214.33,326.06 L214.72,324.90 L215.11,323.73 L215.50,322.56 L215.89,321.40 L216.28,320.23 L216.67,319.06 L217.06,317.89 L217.45,316.73 L217.84,315.56 L218.23,314.39 L218.62,313.23 L219.01,312.06 L219.40,310.89 L219.79,309.73 L220.18,308.56 L220.57,307.39 L220.96,306.23 L221.35,305.06 L221.73,303.90 L222.12,302.73 L222.51,301.57 L222.90,300.40 L223.29,299.24 L223.68,298.07 L224.08,296.91 L224.47,295.74 L224.86,294.58 L225.25,293.42 L225.64,292.25 L226.03,291.09 L226.42,289.93 L226.82,288.77 L227.21,287.60 L227.60,286.44 L227.99,285.28 L228.39,284.12 L228.78,282.96 L229.18,281.80 L229.57,280.64 L229.97,279.49 L230.36,278.33 L230.76,277.17 L231.16,276.01 L231.55,274.86 L231.95,273.70 L232.35,272.54 L232.75,271.39 L233.15,270.24 L233.55,269.08 L233.95,267.93 L234.35,266.78 L234.76,265.62 L235.16,264.47 L235.56,263.32 L235.97,262.17 L236.37,261.02 L236.78,259.87 L237.18,258.73 L237.59,257.58 L238.00,256.43 L238.41,255.29 L238.82,254.14 L239.23,253.00 L239.64,251.85 L240.05,250.71 L240.47,249.57 L240.88,248.43 L241.30,247.29 L241.72,246.15 L242.13,245.01 L242.56,243.87 L242.98,242.73 L243.40,241.60 L243.83,240.46 L244.26,239.33 L244.69,238.19 L245.13,237.06 L245.57,235.93 L246.01,234.80 L246.45,233.67 L246.90,232.54 L247.35,231.42 L247.80,230.29 L248.26,229.16 L248.72,228.04 L249.19,226.92 L249.66,225.79 L250.14,224.67 L250.62,223.55 L251.10,222.43 L251.59,221.32 L252.08,220.20 L252.58,219.08 L253.09,217.97 L253.60,216.86 L254.11,215.74 L254.63,214.63 L255.16,213.52 L255.70,212.41 L256.24,211.31 L256.78,210.20 L257.33,209.10 L257.89,207.99 L258.46,206.89 L259.04,205.80 L259.62,204.70 L260.21,203.62 L260.81,202.53 L261.42,201.45 L262.04,200.38 L262.67,199.32 L263.31,198.26 L263.96,197.22 L264.63,196.18 L265.30,195.15 L265.99,194.13 L266.69,193.13 L267.40,192.13 L268.13,191.15 L268.87,190.18 L269.62,189.22 L270.39,188.28 L271.18,187.36 L271.98,186.45 L272.79,185.55 L273.63,184.68 L274.48,183.82 L275.34,182.98 L276.23,182.16 L277.13,181.35 L278.05,180.57 L278.99,179.81 L279.95,179.07 L280.93,178.36 L281.93,177.66 L282.94,176.98 L283.96,176.32 L285.00,175.67 L286.05,175.03 L287.11,174.41 L288.18,173.80 L289.25,173.19 L290.33,172.60 L291.42,172.00 L292.50,171.42 L293.59,170.83 L294.68,170.25 L295.76,169.66 L296.85,169.07 L297.93,168.49 L299.02,167.91 L300.10,167.32 L301.19,166.75 L302.27,166.17 L303.36,165.61 L304.45,165.04 L305.55,164.49 L306.65,163.94 L307.75,163.40 L308.86,162.87 L309.97,162.35 L311.09,161.84 L312.21,161.34 L313.34,160.85 L314.46,160.37 L315.60,159.91 L316.74,159.45 L317.88,159.01 L319.02,158.58 L320.17,158.17 L321.33,157.77 L322.49,157.38 L323.65,157.01 L324.81,156.65 L325.98,156.30 L327.15,155.98 L328.33,155.67 L329.50,155.37 L330.69,155.10 L331.87,154.84 L333.06,154.59 L334.25,154.37 L335.44,154.17 L336.64,153.98 L337.84,153.82 L339.04,153.67 L340.25,153.54 L341.45,153.44 L342.66,153.36 L343.88,153.29 L345.09,153.25 L346.31,153.23 L347.53,153.23 L348.75,153.25 L349.97,153.28 L351.20,153.34 L352.43,153.41 L353.65,153.50 L354.89,153.61 L356.12,153.74 L357.35,153.88 L358.59,154.04 L359.83,154.21 L361.07,154.40 L362.31,154.60 L362.42,154.66 L362.55,154.71 L362.67,154.77 L362.80,154.83 L362.92,154.89 L363.05,154.94 L363.17,155.00 L363.30,155.06 L363.42,155.11 L363.54,155.17 L363.67,155.23 L363.79,155.28 L363.92,155.34 L364.04,155.40 L364.17,155.45 L364.29,155.51 L364.42,155.57 L364.54,155.62 L364.67,155.68 L364.79,155.73 L364.92,155.79 L365.04,155.85 L365.17,155.90 L365.29,155.96 L365.42,156.01 L365.54,156.07 L365.67,156.12 L365.79,156.18 L365.92,156.23 L366.04,156.29 L366.17,156.35 L366.29,156.40 L366.42,156.46 L366.54,156.51 L366.67,156.57 L366.79,156.62 L366.92,156.68 L367.04,156.73 L367.17,156.78 L367.30,156.84 L367.42,156.89 L367.55,156.95 L367.67,157.00 L367.80,157.06 L367.92,157.11 L368.05,157.17 L368.18,157.22 L368.30,157.28 L368.43,157.33 L368.55,157.38 L368.68,157.44 L368.80,157.49 L368.93,157.55 L369.06,157.60 L369.18,157.65 L369.31,157.71 L369.43,157.76 L369.56,157.81 L369.69,157.87 L369.81,157.92 L369.94,157.98 L370.06,158.03 L370.19,158.08 L370.32,158.14 L370.44,158.19 L370.57,158.24 L370.69,158.30 L370.82,158.35 L370.95,158.40 L371.07,158.46 L371.20,158.51 L371.33,158.56 L371.45,158.61 L371.58,158.67 L371.70,158.72 L371.83,158.77 L371.96,158.83 L372.08,158.88 L372.21,158.93 L372.34,158.98 L372.46,159.04 L372.59,159.09 L372.72,159.14 L372.84,159.19 L372.97,159.25 L373.10,159.30 L373.22,159.35 L373.35,159.40 L373.47,159.46 L373.60,159.51 L373.73,159.56 L373.85,159.61 L373.98,159.67 L374.11,159.72 L374.23,159.77 L374.36,159.82 L374.49,159.87 L374.61,159.93 L374.74,159.98 L374.87,160.03 L375.00,160.08 L375.12,160.13 L375.25,160.19 L375.38,160.24 L375.50,160.29 L375.63,160.34 L375.76,160.39 L375.88,160.45 L376.01,160.50 L376.14,160.55 L376.26,160.60 L376.39,160.65 L376.52,160.70 L376.64,160.76 L376.77,160.81 L376.90,160.86 L377.02,160.91 L377.15,160.96 L377.28,161.01 L377.41,161.07 L377.53,161.12 L377.66,161.17 L377.79,161.22 L377.91,161.27 L378.04,161.32 L378.17,161.37 L378.29,161.43 L378.42,161.48 L378.55,161.53 L378.68,161.58 L378.80,161.63 L378.93,161.68 L379.06,161.73 L379.18,161.79 L379.31,161.84 L379.44,161.89 L379.56,161.94 L379.69,161.99 L379.82,162.04 L379.95,162.09 L380.07,162.14 L380.20,162.20 L380.33,162.25 L380.45,162.30 L380.58,162.35 L380.71,162.40 L380.83,162.45 L380.96,162.50 L381.09,162.55 L381.22,162.61 L381.34,162.66 L381.47,162.71 L381.60,162.76 L381.72,162.81 L381.85,162.86 L381.98,162.91 L382.11,162.96 L382.23,163.02 L382.36,163.07 L382.49,163.12 L382.61,163.17 L382.74,163.22 L382.87,163.27 L382.99,163.32 L383.12,163.37 L383.25,163.43 L383.38,163.48 L383.50,163.53 L383.63,163.58 L383.76,163.63 L383.88,163.68 L384.01,163.73 L384.14,163.78 L384.26,163.84 L384.39,163.89 L384.52,163.94 L384.65,163.99 L384.77,164.04 L384.90,164.09 L385.03,164.14 L385.15,164.19 L385.28,164.25 L385.41,164.30 L385.53,164.35 L385.66,164.40 L385.79,164.45 L385.91,164.50 L386.04,164.55 L386.17,164.61 L386.30,164.66 L386.42,164.71 L386.55,164.76 L386.68,164.81 L386.80,164.86 L386.93,164.92 L387.06,164.97 L387.18,165.02 L387.31,165.07 L387.44,165.12 L387.56,165.17 L387.69,165.23 L387.82,165.28 L387.94,165.33 L388.07,165.38 L388.20,165.43 L388.32,165.48 L388.45,165.54 L388.58,165.59 L388.70,165.64 L388.83,165.69 L388.96,165.74 L389.08,165.80 L389.21,165.85 L389.34,165.90 L389.46,165.95 L389.59,166.00 L389.72,166.06 L389.84,166.11 L389.97,166.16 L390.09,166.21 L390.22,166.27 L390.35,166.32 L390.47,166.37 L390.60,166.42 L390.73,166.48 L390.85,166.53 L390.98,166.58 L391.11,166.63 L391.23,166.69 L391.36,166.74 L391.48,166.79 L391.61,166.84 L391.74,166.90 L391.86,166.95 L391.99,167.00 L392.11,167.06 L392.24,167.11 L392.37,167.16 L392.49,167.21 L392.62,167.27 L392.74,167.32 L392.87,167.37 L393.00,167.43 L393.12,167.48 L393.25,167.53 L393.37,167.59 L393.50,167.64 L393.63,167.69 L393.75,167.75 L393.88,167.80 L394.00,167.85 L394.13,167.91 L394.25,167.96 L394.38,168.01 L394.51,168.07 L394.63,168.12 L394.76,168.18 L394.88,168.23 L395.01,168.28 L395.13,168.34 L395.26,168.39 L395.38,168.45 L395.51,168.50 L395.64,168.56 L395.76,168.61 L395.89,168.66 L396.01,168.72 L396.14,168.77 L396.26,168.83 L396.39,168.88 L396.51,168.94 L396.64,168.99 L396.76,169.05 L396.89,169.10 L397.01,169.16 L397.14,169.21 L397.26,169.27 L397.39,169.32 L397.51,169.38 L397.64,169.43 L397.76,169.49 L397.89,169.54 L398.01,169.60 L398.14,169.65 L398.26,169.71 L398.39,169.76 L398.51,169.82 L398.63,169.88 L398.76,169.93 L398.88,169.99 L399.01,170.04 L399.13,170.10 L399.26,170.16 L399.38,170.21 L399.51,170.27 L399.63,170.32 L399.75,170.38 L399.88,170.44 L400.00,170.49 L400.60,171.26 L401.18,172.04 L401.74,172.83 L402.29,173.62 L402.81,174.41 L403.32,175.21 L403.82,176.00 L404.31,176.80 L404.78,177.60 L405.25,178.40 L405.71,179.20 L406.16,180.01 L406.60,180.81 L407.04,181.62 L407.47,182.43 L407.91,183.24 L408.34,184.05 L408.77,184.86 L409.20,185.67 L409.64,186.49 L410.08,187.31 L410.53,188.12 L410.98,188.94 L411.43,189.76 L411.89,190.58 L412.35,191.41 L412.81,192.23 L413.27,193.05 L413.74,193.88 L414.20,194.70 L414.66,195.53 L415.11,196.36 L415.56,197.18 L416.01,198.01 L416.45,198.84 L416.89,199.67 L417.32,200.50 L417.74,201.33 L418.15,202.16 L418.56,203.00 L418.96,203.83 L419.36,204.66 L419.76,205.49 L420.16,206.33 L420.55,207.16 L420.95,207.99 L421.35,208.83 L421.75,209.66 L422.14,210.50 L422.54,211.33 L422.94,212.17 L423.34,213.00 L423.74,213.84 L424.14,214.67 L424.53,215.51 L424.93,216.34 L425.33,217.18 L425.73,218.02 L426.13,218.85 L426.53,219.69 L426.93,220.53 L427.33,221.36 L427.73,222.20 L428.13,223.04 L428.54,223.88 L428.94,224.72 L429.34,225.55 L429.74,226.39 L430.14,227.23 L430.54,228.07 L430.94,228.91 L431.35,229.75 L431.75,230.59 L432.15,231.43 L432.55,232.27 L432.96,233.11 L433.36,233.95 L433.76,234.79 L434.16,235.63 L434.57,236.47 L434.97,237.31 L435.37,238.15 L435.78,239.00 L436.18,239.84 L436.58,240.68 L436.99,241.52 L437.39,242.36 L437.79,243.21 L438.20,244.05 L438.60,244.89 L439.00,245.73 L439.41,246.58 L439.81,247.42 L440.22,248.26 L440.62,249.11 L441.02,249.95 L441.43,250.79 L441.83,251.64 L442.24,252.48 L442.64,253.33 L443.04,254.17 L443.45,255.02 L443.85,255.86 L444.26,256.71 L444.66,257.55 L445.07,258.40 L445.47,259.24 L445.87,260.09 L446.28,260.94 L446.68,261.78 L447.09,262.63 L447.49,263.47 L447.90,264.32 L448.30,265.17 L448.70,266.01 L449.11,266.86 L449.51,267.71 L449.92,268.56 L450.32,269.40 L450.72,270.25 L451.13,271.10 L451.53,271.95 L451.94,272.79 L452.34,273.64 L452.74,274.49 L453.15,275.34 L453.55,276.19 L453.95,277.04 L454.36,277.88 L454.76,278.73 L455.16,279.58 L455.57,280.43 L455.97,281.28 L456.37,282.13 L456.78,282.98 L457.18,283.83 L457.58,284.68 L457.98,285.53 L458.39,286.38 L458.79,287.23 L459.19,288.08 L459.59,288.93 L459.99,289.78 L460.39,290.63 L460.80,291.48 L461.20,292.33 L461.60,293.18 L462.00,294.03 L462.40,294.88 L462.80,295.73 L463.20,296.59 L463.60,297.44 L464.00,298.29 L464.40,299.14 L464.80,299.99 L465.20,300.84 L465.60,301.70 L466.00,302.55 L466.40,303.40 L466.80,304.25 L467.20,305.10 L467.59,305.96 L467.99,306.81 L468.39,307.66 L468.79,308.51 L469.19,309.37 L469.58,310.22 L469.98,311.07 L470.38,311.92 L470.77,312.78 L471.17,313.63 L471.57,314.48 L471.96,315.34 L472.36,316.19 L472.76,317.04 L473.15,317.90 L473.55,318.75 L473.94,319.60 L474.34,320.46 L474.73,321.31 L475.13,322.16 L475.52,323.02 L475.91,323.87 L476.31,324.73 L476.70,325.58 L477.10,326.43 L477.49,327.29 L477.88,328.14 L478.27,329.00 L478.67,329.85 L479.06,330.71 L479.45,331.56 L479.84,332.41 L480.24,333.27 L480.63,334.12 L481.02,334.98 L481.41,335.83 L481.80,336.69 L482.19,337.54 L482.58,338.40 L482.97,339.25 L483.36,340.11 L483.75,340.96 L484.14,341.82 L484.53,342.67 L484.92,343.52 L485.31,344.38 L485.70,345.23 L486.09,346.09 L486.47,346.94 L486.86,347.80 L487.25,348.65 L487.64,349.51 L488.02,350.37 L488.41,351.22 L488.80,352.08 L489.18,352.93 L489.57,353.79 L489.96,354.64 L490.34,355.50 L490.73,356.35 L491.11,357.21 L491.50,358.06 L491.88,358.92 L492.27,359.77 L492.65,360.63 L493.04,361.48 L493.42,362.34 L493.80,363.19 L494.19,364.05 L494.57,364.90 L494.95,365.76 L495.34,366.61 L495.72,367.47 L496.10,368.33 L496.48,369.18 L496.86,370.04 L497.24,370.89 L497.63,371.75 L498.01,372.60 L498.39,373.46 L498.77,374.31 L499.15,375.17 L499.53,376.02 L499.91,376.88 L500.29,377.73 L500.67,378.59 L501.04,379.44 L501.42,380.30 L501.80,381.15 L502.18,382.01 L502.56,382.86 L502.93,383.72 L503.31,384.57 L503.69,385.43 L504.06,386.28 L504.44,387.14 L504.82,387.99 L505.19,388.85 L505.57,389.70 L505.94,390.56 L506.32,391.41 L506.69,392.27 L507.07,393.12 L507.44,393.98 L507.82,394.83 L508.19,395.68 L508.56,396.54 L508.94,397.39 L509.31,398.25 L509.68,399.10 L510.05,399.96 L510.43,400.81 L510.80,401.66 L511.17,402.52 L511.54,403.37 L511.91,404.23 L512.28,405.08 L512.65,405.93 L513.02,406.79 L513.39,407.64 L513.76,408.50 L514.13,409.35 L514.50,410.20 L514.87,411.06 L515.24,411.91 L515.60,412.76 L515.97,413.62 L516.34,414.47 L516.71,415.32 L517.07,416.18 L517.44,417.03 L517.81,417.88 L518.17,418.73 L518.54,419.59 L518.90,420.44 L519.27,421.29 L519.63,422.14 L520.00,423.00"/>
<path d="M197.42,430.03 L198.60,429.04 L199.76,428.03 L200.89,426.99 L202.00,425.94 L203.07,424.86 L204.12,423.77 L205.15,422.66 L206.15,421.53 L207.12,420.38 L208.07,419.21 L209.00,418.02 L209.91,416.82 L210.79,415.61 L211.65,414.37 L212.49,413.13 L213.31,411.86 L214.12,410.59 L214.90,409.30 L215.67,408.00 L216.41,406.68 L217.15,405.36 L217.86,404.02 L218.56,402.67 L219.25,401.31 L219.92,399.94 L220.57,398.56 L221.22,397.18 L221.85,395.78 L222.47,394.38 L223.08,392.97 L223.68,391.56 L224.26,390.14 L224.84,388.71 L225.41,387.28 L225.98,385.84 L226.53,384.40 L227.08,382.95 L227.62,381.51 L228.16,380.06 L228.69,378.61 L229.22,377.15 L229.74,375.70 L230.27,374.25 L230.79,372.79 L231.30,371.34 L231.82,369.89 L232.34,368.44 L232.85,366.99 L233.36,365.54 L233.88,364.09 L234.39,362.64 L234.90,361.20 L235.41,359.75 L235.92,358.31 L236.43,356.87 L236.94,355.42 L237.44,353.98 L237.95,352.54 L238.46,351.10 L238.96,349.66 L239.47,348.22 L239.97,346.78 L240.48,345.35 L240.98,343.91 L241.49,342.47 L242.00,341.04 L242.50,339.60 L243.01,338.17 L243.51,336.73 L244.02,335.30 L244.52,333.87 L245.03,332.43 L245.54,331.00 L246.04,329.57 L246.55,328.14 L247.06,326.71 L247.57,325.27 L248.08,323.84 L248.59,322.41 L249.10,320.98 L249.61,319.55 L250.12,318.12 L250.64,316.69 L251.15,315.26 L251.67,313.83 L252.18,312.40 L252.70,310.97 L253.22,309.53 L253.74,308.10 L254.26,306.67 L254.79,305.24 L255.31,303.81 L255.83,302.38 L256.35,300.95 L256.88,299.52 L257.40,298.08 L257.92,296.65 L258.45,295.22 L258.97,293.79 L259.49,292.35 L260.01,290.92 L260.53,289.48 L261.05,288.05 L261.57,286.61 L262.08,285.18 L262.60,283.74 L263.11,282.30 L263.63,280.87 L264.14,279.43 L264.64,277.99 L265.15,276.55 L265.66,275.11 L266.16,273.67 L266.66,272.23 L267.15,270.78 L267.65,269.34 L268.14,267.90 L268.62,266.45 L269.11,265.01 L269.59,263.56 L270.07,262.11 L270.54,260.66 L271.01,259.21 L271.48,257.76 L271.94,256.31 L272.40,254.86 L272.85,253.40 L273.30,251.95 L273.75,250.49 L274.19,249.03 L274.62,247.57 L275.06,246.11 L275.50,244.65 L275.93,243.19 L276.37,241.73 L276.81,240.27 L277.25,238.81 L277.69,237.35 L278.14,235.89 L278.60,234.43 L279.06,232.97 L279.53,231.52 L280.01,230.06 L280.50,228.60 L281.00,227.15 L281.50,225.70 L282.02,224.24 L282.54,222.79 L283.07,221.35 L283.61,219.90 L284.16,218.46 L284.71,217.01 L285.27,215.58 L285.84,214.14 L286.42,212.71 L287.00,211.27 L287.59,209.85 L288.19,208.42 L288.79,207.00 L289.40,205.58 L290.01,204.17 L290.63,202.76 L291.25,201.35 L291.88,199.95 L292.52,198.55 L293.15,197.16 L293.80,195.77 L294.44,194.39 L295.09,193.01 L295.75,191.64 L296.41,190.27 L297.07,188.91 L297.75,187.55 L298.42,186.20 L299.11,184.85 L299.80,183.51 L300.50,182.18 L301.21,180.85 L301.93,179.53 L302.67,178.21 L303.41,176.90 L304.16,175.60 L304.93,174.31 L305.71,173.02 L306.50,171.74 L307.31,170.47 L308.13,169.21 L308.96,167.95 L309.82,166.70 L310.69,165.46 L311.57,164.23 L312.48,163.01 L313.40,161.79 L314.35,160.59 L315.31,159.39 L316.29,158.20 L317.29,157.02 L318.31,155.85 L319.35,154.70 L320.41,153.56 L321.49,152.43 L322.58,151.32 L323.68,150.23 L324.81,149.15 L325.94,148.09 L327.09,147.06 L328.25,146.04 L329.42,145.05 L330.61,144.08 L331.80,143.13 L333.01,142.21 L334.22,141.32 L335.44,140.45 L336.67,139.62 L337.91,138.81 L339.15,138.03 L340.40,137.26 L341.65,136.50 L342.90,135.73 L344.16,134.95 L345.43,134.16 L346.69,133.34 L347.96,132.51 L349.23,131.66 L350.50,130.79 L351.78,129.92 L353.06,129.04 L354.35,128.16 L355.64,127.27 L356.93,126.39 L358.24,125.51 L359.54,124.64 L360.86,123.79 L362.18,122.94 L363.50,122.12 L364.84,121.31 L366.18,120.53 L367.52,119.77 L368.88,119.03 L370.24,118.32 L371.61,117.64 L372.99,116.98 L374.38,116.34 L375.77,115.73 L377.17,115.14 L378.58,114.57 L379.99,114.02 L381.41,113.50 L382.83,112.99 L384.27,112.51 L385.71,112.05 L387.15,111.61 L388.60,111.19 L390.06,110.78 L391.52,110.40 L392.99,110.03 L394.46,109.68 L395.94,109.35 L397.42,109.04 L398.91,108.75 L400.41,108.47 L401.91,108.20 L403.41,107.96 L404.92,107.72 L406.43,107.51 L407.95,107.31 L409.47,107.13 L410.99,106.96 L412.51,106.81 L414.04,106.68 L415.57,106.56 L417.10,106.46 L418.64,106.37 L420.17,106.31 L421.71,106.25 L423.24,106.22 L424.78,106.20 L426.32,106.19 L427.86,106.21 L429.39,106.24 L430.93,106.28 L432.46,106.34 L434.00,106.42 L435.53,106.51 L437.06,106.63 L438.58,106.75 L440.11,106.90 L441.63,107.06 L443.15,107.23 L444.67,107.42 L446.18,107.63 L447.68,107.86 L449.19,108.10 L450.69,108.36 L452.18,108.63 L453.67,108.92 L455.15,109.23 L456.63,109.55 L458.10,109.89 L458.32,109.99 L458.54,110.07 L458.76,110.15 L458.98,110.24 L459.20,110.32 L459.42,110.41 L459.63,110.49 L459.85,110.58 L460.07,110.66 L460.29,110.75 L460.51,110.84 L460.73,110.92 L460.95,111.01 L461.16,111.09 L461.38,111.18 L461.60,111.27 L461.82,111.36 L462.04,111.44 L462.25,111.53 L462.47,111.62 L462.69,111.71 L462.91,111.80 L463.12,111.88 L463.34,111.97 L463.56,112.06 L463.77,112.15 L463.99,112.24 L464.21,112.33 L464.42,112.42 L464.64,112.51 L464.86,112.60 L465.07,112.69 L465.29,112.79 L465.51,112.88 L465.72,112.97 L465.94,113.06 L466.15,113.15 L466.37,113.24 L466.58,113.34 L466.80,113.43 L467.01,113.52 L467.23,113.62 L467.44,113.71 L467.66,113.80 L467.87,113.90 L468.09,113.99 L468.30,114.08 L468.52,114.18 L468.73,114.27 L468.95,114.37 L469.16,114.46 L469.38,114.56 L469.59,114.65 L469.80,114.75 L470.02,114.85 L470.23,114.94 L470.44,115.04 L470.66,115.13 L470.87,115.23 L471.08,115.33 L471.30,115.42 L471.51,115.52 L471.72,115.62 L471.94,115.72 L472.15,115.82 L472.36,115.91 L472.57,116.01 L472.79,116.11 L473.00,116.21 L473.21,116.31 L473.42,116.41 L473.64,116.51 L473.85,116.61 L474.06,116.71 L474.27,116.81 L474.48,116.91 L474.70,117.01 L474.91,117.11 L475.12,117.21 L475.33,117.31 L475.54,117.41 L475.75,117.51 L475.96,117.61 L476.17,117.71 L476.38,117.81 L476.60,117.92 L476.81,118.02 L477.02,118.12 L477.23,118.22 L477.44,118.33 L477.65,118.43 L477.86,118.53 L478.07,118.63 L478.28,118.74 L478.49,118.84 L478.70,118.95 L478.91,119.05 L479.12,119.15 L479.33,119.26 L479.54,119.36 L479.75,119.47 L479.96,119.57 L480.17,119.68 L480.37,119.78 L480.58,119.89 L480.79,119.99 L481.00,120.10 L481.21,120.20 L481.42,120.31 L481.63,120.42 L481.84,120.52 L482.05,120.63 L482.25,120.73 L482.46,120.84 L482.67,120.95 L482.88,121.06 L483.09,121.16 L483.29,121.27 L483.50,121.38 L483.71,121.49 L483.92,121.59 L484.13,121.70 L484.33,121.81 L484.54,121.92 L484.75,122.03 L484.96,122.14 L485.16,122.24 L485.37,122.35 L485.58,122.46 L485.79,122.57 L485.99,122.68 L486.20,122.79 L486.41,122.90 L486.61,123.01 L486.82,123.12 L487.03,123.23 L487.23,123.34 L487.44,123.45 L487.65,123.56 L487.85,123.67 L488.06,123.78 L488.27,123.89 L488.47,124.00 L488.68,124.12 L488.88,124.23 L489.09,124.34 L489.30,124.45 L489.50,124.56 L489.71,124.67 L489.91,124.79 L490.12,124.90 L490.32,125.01 L490.53,125.12 L490.73,125.23 L490.94,125.35 L491.15,125.46 L491.35,125.57 L491.56,125.69 L491.76,125.80 L491.97,125.91 L492.17,126.03 L492.38,126.14 L492.58,126.25 L492.79,126.37 L492.99,126.48 L493.20,126.60 L493.40,126.71 L493.60,126.82 L493.81,126.94 L494.01,127.05 L494.22,127.17 L494.42,127.28 L494.63,127.40 L494.83,127.51 L495.03,127.63 L495.24,127.74 L495.44,127.86 L495.65,127.97 L495.85,128.09 L496.05,128.20 L496.26,128.32 L496.46,128.44 L496.67,128.55 L496.87,128.67 L497.07,128.78 L497.28,128.90 L497.48,129.02 L497.68,129.13 L497.89,129.25 L498.09,129.37 L498.29,129.48 L498.50,129.60 L498.70,129.72 L498.90,129.83 L499.10,129.95 L499.31,130.07 L499.51,130.18 L499.71,130.30 L499.92,130.42 L500.12,130.54 L500.32,130.65 L500.52,130.77 L500.73,130.89 L500.93,131.01 L501.13,131.13 L501.33,131.24 L501.54,131.36 L501.74,131.48 L501.94,131.60 L502.14,131.72 L502.35,131.84 L502.55,131.96 L502.75,132.07 L502.95,132.19 L503.15,132.31 L503.36,132.43 L503.56,132.55 L503.76,132.67 L503.96,132.79 L504.16,132.91 L504.37,133.03 L504.57,133.15 L504.77,133.27 L504.97,133.38 L505.17,133.50 L505.37,133.62 L505.58,133.74 L505.78,133.86 L505.98,133.98 L506.18,134.10 L506.38,134.22 L506.58,134.34 L506.78,134.46 L506.98,134.58 L507.19,134.70 L507.39,134.82 L507.59,134.95 L507.79,135.07 L507.99,135.19 L508.19,135.31 L508.39,135.43 L508.59,135.55 L508.79,135.67 L509.00,135.79 L509.20,135.91 L509.40,136.03 L509.60,136.15 L509.80,136.27 L510.00,136.39 L510.20,136.52 L510.40,136.64 L510.60,136.76 L510.80,136.88 L511.00,137.00 L511.20,137.12 L511.40,137.24 L511.60,137.37 L511.80,137.49 L512.00,137.61 L512.20,137.73 L512.41,137.85 L512.61,137.97 L512.81,138.10 L513.01,138.22 L513.21,138.34 L513.41,138.46 L513.61,138.58 L513.81,138.70 L514.01,138.83 L514.21,138.95 L514.41,139.07 L514.61,139.19 L514.81,139.31 L515.01,139.44 L515.21,139.56 L515.41,139.68 L515.61,139.80 L515.81,139.93 L516.01,140.05 L516.21,140.17 L516.41,140.29 L516.61,140.42 L516.81,140.54 L517.01,140.66 L517.21,140.78 L517.41,140.91 L517.61,141.03 L517.81,141.15 L518.00,141.27 L518.20,141.40 L518.40,141.52 L518.60,141.64 L518.80,141.76 L519.00,141.89 L519.20,142.01 L519.40,142.13 L519.60,142.25 L519.80,142.38 L520.00,142.50"/>
<path d="M285.00,430.01 L286.29,428.93 L287.55,427.83 L288.79,426.71 L290.00,425.57 L291.18,424.41 L292.34,423.24 L293.47,422.05 L294.58,420.84 L295.66,419.62 L296.72,418.38 L297.76,417.13 L298.78,415.86 L299.77,414.58 L300.74,413.28 L301.69,411.98 L302.63,410.65 L303.54,409.32 L304.43,407.98 L305.31,406.62 L306.16,405.25 L307.00,403.87 L307.83,402.49 L308.63,401.09 L309.42,399.68 L310.20,398.26 L310.96,396.84 L311.70,395.41 L312.44,393.97 L313.16,392.52 L313.86,391.07 L314.56,389.61 L315.24,388.14 L315.92,386.67 L316.58,385.20 L317.23,383.72 L317.88,382.23 L318.51,380.74 L319.14,379.25 L319.76,377.76 L320.37,376.26 L320.98,374.77 L321.57,373.27 L322.17,371.77 L322.76,370.27 L323.35,368.77 L323.93,367.26 L324.51,365.76 L325.10,364.26 L325.69,362.76 L326.27,361.25 L326.86,359.75 L327.45,358.24 L328.04,356.74 L328.63,355.23 L329.23,353.72 L329.82,352.22 L330.42,350.71 L331.01,349.20 L331.61,347.69 L332.20,346.18 L332.80,344.67 L333.39,343.16 L333.99,341.65 L334.59,340.14 L335.19,338.63 L335.78,337.11 L336.38,335.60 L336.98,334.09 L337.58,332.57 L338.17,331.06 L338.77,329.54 L339.37,328.02 L339.97,326.51 L340.56,324.99 L341.16,323.47 L341.75,321.95 L342.35,320.43 L342.94,318.91 L343.53,317.39 L344.13,315.87 L344.72,314.35 L345.31,312.83 L345.90,311.31 L346.48,309.78 L347.07,308.26 L347.66,306.73 L348.24,305.21 L348.82,303.68 L349.40,302.16 L349.97,300.63 L350.55,299.10 L351.12,297.57 L351.68,296.05 L352.24,294.52 L352.80,292.99 L353.36,291.46 L353.91,289.93 L354.45,288.39 L354.99,286.86 L355.53,285.33 L356.06,283.80 L356.58,282.26 L357.11,280.73 L357.63,279.19 L358.15,277.66 L358.67,276.12 L359.19,274.58 L359.70,273.05 L360.22,271.51 L360.74,269.97 L361.26,268.44 L361.78,266.90 L362.31,265.36 L362.84,263.82 L363.37,262.28 L363.91,260.74 L364.46,259.20 L365.01,257.66 L365.56,256.13 L366.13,254.59 L366.70,253.05 L367.28,251.51 L367.86,249.97 L368.44,248.43 L369.03,246.89 L369.62,245.35 L370.20,243.81 L370.79,242.27 L371.37,240.73 L371.95,239.20 L372.52,237.66 L373.09,236.12 L373.65,234.58 L374.21,233.04 L374.77,231.51 L375.32,229.97 L375.87,228.43 L376.43,226.90 L376.98,225.36 L377.53,223.83 L378.08,222.29 L378.63,220.76 L379.18,219.23 L379.73,217.69 L380.29,216.16 L380.84,214.63 L381.39,213.10 L381.95,211.57 L382.51,210.04 L383.06,208.51 L383.62,206.98 L384.18,205.45 L384.74,203.92 L385.31,202.40 L385.87,200.87 L386.44,199.35 L387.00,197.83 L387.57,196.30 L388.14,194.78 L388.72,193.26 L389.29,191.74 L389.87,190.22 L390.44,188.71 L391.02,187.19 L391.61,185.68 L392.19,184.16 L392.78,182.65 L393.36,181.14 L393.96,179.63 L394.55,178.12 L395.15,176.61 L395.74,175.10 L396.35,173.60 L396.95,172.09 L397.56,170.59 L398.17,169.09 L398.78,167.59 L399.39,166.09 L400.01,164.60 L400.63,163.10 L401.26,161.61 L401.89,160.12 L402.52,158.63 L403.15,157.14 L403.79,155.65 L404.43,154.16 L405.08,152.68 L405.73,151.20 L406.38,149.72 L407.04,148.24 L407.70,146.76 L408.36,145.29 L409.03,143.81 L409.70,142.34 L410.38,140.87 L411.06,139.41 L411.75,137.94 L412.44,136.48 L413.13,135.02 L413.83,133.56 L414.53,132.10 L415.24,130.65 L415.96,129.20 L416.68,127.75 L417.41,126.30 L418.14,124.86 L418.88,123.42 L419.62,121.99 L420.38,120.55 L421.13,119.13 L421.90,117.70 L422.67,116.28 L423.45,114.86 L424.24,113.45 L425.04,112.04 L425.84,110.63 L426.65,109.23 L427.47,107.84 L428.30,106.44 L429.14,105.06 L429.99,103.67 L430.84,102.30 L431.71,100.92 L432.58,99.56 L433.47,98.19 L434.36,96.84 L435.26,95.49 L436.18,94.14 L437.10,92.80 L438.04,91.47 L438.99,90.14 L439.94,88.81 L440.91,87.50 L441.89,86.19 L442.88,84.89 L443.89,83.59 L444.90,82.30 L445.93,81.02 L446.96,79.74 L448.01,78.47 L449.06,77.21 L450.13,75.95 L451.20,74.70 L452.28,73.46 L453.38,72.23 L454.48,71.01 L455.59,69.79 L456.70,68.58 L457.83,67.38 L458.96,66.18 L460.10,65.00 L461.25,63.82 L462.40,62.66 L463.56,61.50 L464.73,60.35 L465.90,59.20 L467.08,58.07 L468.26,56.95 L469.45,55.83 L470.64,54.73 L471.84,53.63 L473.05,52.54 L474.26,51.46 L475.47,50.38 L476.69,49.31 L477.91,48.25 L479.14,47.20 L480.37,46.15 L481.61,45.10 L482.84,44.07 L484.09,43.04 L485.34,42.01 L486.59,40.99 L487.84,39.97 L489.10,38.96 L490.36,37.95 L491.62,36.94 L492.89,35.94 L494.16,34.94 L495.43,33.95 L496.71,32.96 L497.99,31.96 L499.27,30.98 L500.55,29.99 L501.84,29.00 L503.12,28.02 L504.41,27.04 L505.70,26.05 L507.00,25.07 L508.29,24.09 L509.59,23.10 L510.89,22.12 L512.18,21.14 L513.48,20.15 L514.78,19.16 L516.09,18.18 L517.39,17.19 L518.69,16.19 L520.00,15.20"/>
<path d="M344.50,430.01 L345.81,429.46 L347.10,428.87 L348.36,428.24 L349.60,427.58 L350.81,426.89 L352.00,426.16 L353.16,425.40 L354.30,424.61 L355.42,423.79 L356.51,422.94 L357.59,422.07 L358.64,421.17 L359.67,420.24 L360.67,419.28 L361.66,418.30 L362.63,417.30 L363.58,416.28 L364.51,415.24 L365.41,414.17 L366.30,413.09 L367.18,411.99 L368.03,410.87 L368.87,409.74 L369.69,408.59 L370.49,407.43 L371.27,406.25 L372.04,405.06 L372.80,403.86 L373.54,402.65 L374.26,401.43 L374.97,400.20 L375.67,398.97 L376.35,397.72 L377.01,396.48 L377.67,395.22 L378.31,393.97 L378.94,392.71 L379.56,391.45 L380.17,390.19 L380.76,388.93 L381.35,387.67 L381.93,386.41 L382.50,385.14 L383.06,383.88 L383.62,382.61 L384.17,381.35 L384.71,380.08 L385.26,378.81 L385.79,377.54 L386.33,376.27 L386.87,375.00 L387.40,373.73 L387.93,372.46 L388.47,371.18 L389.00,369.91 L389.54,368.63 L390.08,367.36 L390.62,366.08 L391.16,364.80 L391.70,363.53 L392.24,362.25 L392.78,360.97 L393.32,359.69 L393.87,358.41 L394.41,357.12 L394.96,355.84 L395.50,354.56 L396.05,353.27 L396.59,351.99 L397.14,350.70 L397.68,349.42 L398.23,348.13 L398.77,346.84 L399.32,345.55 L399.86,344.26 L400.41,342.97 L400.95,341.68 L401.49,340.39 L402.04,339.10 L402.58,337.81 L403.12,336.51 L403.67,335.22 L404.21,333.92 L404.75,332.63 L405.29,331.33 L405.83,330.04 L406.37,328.74 L406.90,327.44 L407.44,326.14 L407.97,324.84 L408.51,323.54 L409.04,322.24 L409.57,320.94 L410.10,319.64 L410.63,318.34 L411.16,317.04 L411.68,315.73 L412.20,314.43 L412.73,313.13 L413.25,311.82 L413.76,310.52 L414.28,309.21 L414.80,307.90 L415.31,306.60 L415.82,305.29 L416.33,303.98 L416.84,302.67 L417.34,301.37 L417.85,300.06 L418.35,298.75 L418.86,297.44 L419.36,296.13 L419.86,294.82 L420.35,293.51 L420.85,292.19 L421.35,290.88 L421.84,289.57 L422.33,288.26 L422.83,286.94 L423.32,285.63 L423.81,284.32 L424.30,283.00 L424.78,281.69 L425.27,280.37 L425.76,279.06 L426.24,277.75 L426.73,276.43 L427.21,275.11 L427.69,273.80 L428.17,272.48 L428.66,271.17 L429.14,269.85 L429.62,268.53 L430.10,267.22 L430.58,265.90 L431.05,264.58 L431.53,263.26 L432.01,261.95 L432.49,260.63 L432.97,259.31 L433.44,257.99 L433.92,256.68 L434.40,255.36 L434.87,254.04 L435.35,252.72 L435.82,251.40 L436.30,250.08 L436.78,248.77 L437.25,247.45 L437.73,246.13 L438.20,244.81 L438.68,243.49 L439.16,242.17 L439.63,240.85 L440.11,239.54 L440.59,238.22 L441.07,236.90 L441.54,235.58 L442.02,234.26 L442.50,232.94 L442.98,231.63 L443.46,230.31 L443.94,228.99 L444.41,227.67 L444.89,226.35 L445.37,225.04 L445.85,223.72 L446.34,222.40 L446.82,221.08 L447.30,219.77 L447.78,218.45 L448.26,217.13 L448.75,215.82 L449.23,214.50 L449.71,213.18 L450.20,211.87 L450.68,210.55 L451.17,209.24 L451.65,207.92 L452.14,206.61 L452.63,205.29 L453.12,203.98 L453.60,202.67 L454.09,201.35 L454.58,200.04 L455.07,198.73 L455.56,197.41 L456.06,196.10 L456.55,194.79 L457.04,193.48 L457.54,192.17 L458.03,190.86 L458.53,189.55 L459.02,188.24 L459.52,186.93 L460.02,185.62 L460.52,184.31 L461.02,183.00 L461.52,181.69 L462.02,180.39 L462.52,179.08 L463.02,177.77 L463.53,176.47 L464.03,175.16 L464.54,173.86 L465.04,172.55 L465.55,171.25 L466.06,169.95 L466.57,168.64 L467.08,167.34 L467.59,166.04 L468.10,164.74 L468.62,163.44 L469.13,162.14 L469.65,160.84 L470.17,159.54 L470.68,158.24 L471.20,156.95 L471.72,155.65 L472.25,154.36 L472.77,153.06 L473.29,151.77 L473.82,150.47 L474.35,149.18 L474.87,147.89 L475.40,146.60 L475.93,145.31 L476.46,144.02 L477.00,142.73 L477.53,141.44 L478.07,140.15 L478.60,138.86 L479.14,137.58 L479.68,136.29 L480.22,135.01 L480.76,133.73 L481.31,132.44 L481.85,131.16 L482.40,129.88 L482.95,128.60 L483.50,127.32 L484.05,126.04 L484.60,124.76 L485.16,123.49 L485.71,122.21 L486.27,120.94 L486.83,119.66 L487.39,118.39 L487.95,117.12 L488.51,115.85 L489.08,114.58 L489.65,113.31 L490.22,112.04 L490.79,110.78 L491.37,109.51 L491.94,108.25 L492.52,106.98 L493.10,105.72 L493.69,104.46 L494.27,103.20 L494.86,101.94 L495.46,100.68 L496.05,99.42 L496.65,98.17 L497.25,96.91 L497.86,95.66 L498.46,94.41 L499.07,93.15 L499.69,91.90 L500.30,90.66 L500.93,89.41 L501.55,88.16 L502.18,86.92 L502.81,85.67 L503.44,84.43 L504.08,83.19 L504.73,81.95 L505.37,80.71 L506.02,79.47 L506.68,78.23 L507.34,77.00 L508.00,75.76 L508.67,74.53 L509.34,73.30 L510.02,72.07 L510.70,70.84 L511.39,69.61 L512.08,68.38 L512.77,67.16 L513.47,65.94 L514.18,64.71 L514.89,63.49 L515.60,62.27 L516.32,61.06 L517.05,59.84 L517.78,58.63 L518.52,57.41 L519.26,56.20 L520.01,54.99"/>
<path d="M237.00,430.00 L238.22,428.82 L239.42,427.61 L240.59,426.39 L241.74,425.14 L242.86,423.88 L243.96,422.60 L245.04,421.30 L246.10,419.98 L247.13,418.65 L248.15,417.30 L249.14,415.93 L250.12,414.55 L251.08,413.16 L252.02,411.75 L252.94,410.33 L253.84,408.90 L254.73,407.45 L255.60,405.99 L256.45,404.52 L257.29,403.04 L258.11,401.56 L258.92,400.06 L259.72,398.55 L260.50,397.03 L261.28,395.51 L262.03,393.98 L262.78,392.44 L263.52,390.90 L264.24,389.35 L264.96,387.79 L265.67,386.23 L266.36,384.67 L267.05,383.11 L267.73,381.54 L268.41,379.97 L269.08,378.39 L269.74,376.82 L270.39,375.24 L271.04,373.67 L271.69,372.09 L272.33,370.52 L272.96,368.94 L273.59,367.37 L274.22,365.79 L274.84,364.21 L275.46,362.63 L276.07,361.06 L276.68,359.48 L277.28,357.90 L277.88,356.32 L278.48,354.74 L279.08,353.16 L279.67,351.58 L280.26,349.99 L280.84,348.41 L281.42,346.83 L282.00,345.24 L282.58,343.66 L283.16,342.08 L283.73,340.49 L284.31,338.90 L284.88,337.32 L285.44,335.73 L286.01,334.14 L286.58,332.55 L287.14,330.96 L287.71,329.37 L288.27,327.78 L288.84,326.19 L289.40,324.60 L289.96,323.00 L290.52,321.41 L291.09,319.81 L291.65,318.22 L292.21,316.62 L292.78,315.02 L293.34,313.43 L293.91,311.83 L294.48,310.23 L295.04,308.63 L295.61,307.03 L296.18,305.42 L296.76,303.82 L297.33,302.22 L297.91,300.61 L298.48,299.01 L299.06,297.40 L299.64,295.79 L300.22,294.18 L300.80,292.58 L301.38,290.97 L301.96,289.36 L302.54,287.75 L303.12,286.14 L303.70,284.53 L304.28,282.92 L304.86,281.30 L305.45,279.69 L306.03,278.08 L306.61,276.47 L307.19,274.86 L307.77,273.24 L308.35,271.63 L308.93,270.02 L309.51,268.40 L310.08,266.79 L310.66,265.18 L311.24,263.56 L311.81,261.95 L312.38,260.34 L312.95,258.73 L313.52,257.11 L314.09,255.50 L314.66,253.89 L315.22,252.28 L315.79,250.66 L316.35,249.05 L316.91,247.44 L317.46,245.83 L318.02,244.22 L318.57,242.61 L319.12,241.00 L319.66,239.40 L320.21,237.79 L320.75,236.18 L321.29,234.57 L321.83,232.97 L322.36,231.36 L322.90,229.76 L323.43,228.15 L323.97,226.55 L324.50,224.95 L325.03,223.35 L325.57,221.75 L326.10,220.15 L326.63,218.55 L327.17,216.95 L327.70,215.36 L328.24,213.76 L328.78,212.17 L329.32,210.58 L329.87,208.98 L330.42,207.39 L330.97,205.81 L331.52,204.22 L332.08,202.63 L332.64,201.05 L333.20,199.46 L333.77,197.88 L334.34,196.30 L334.92,194.72 L335.51,193.15 L336.09,191.57 L336.69,190.00 L337.29,188.42 L337.90,186.85 L338.51,185.28 L339.13,183.72 L339.76,182.15 L340.39,180.59 L341.04,179.03 L341.69,177.47 L342.35,175.91 L343.01,174.35 L343.69,172.80 L344.38,171.25 L345.07,169.70 L345.78,168.15 L346.49,166.60 L347.22,165.06 L347.95,163.52 L348.70,161.98 L349.45,160.45 L350.22,158.91 L351.00,157.38 L351.79,155.85 L352.60,154.33 L353.41,152.81 L354.24,151.30 L355.08,149.79 L355.93,148.29 L356.80,146.79 L357.68,145.31 L358.57,143.84 L359.47,142.37 L360.39,140.92 L361.32,139.47 L362.26,138.04 L363.22,136.63 L364.20,135.22 L365.18,133.83 L366.18,132.46 L367.20,131.10 L368.23,129.75 L369.27,128.43 L370.33,127.12 L371.40,125.82 L372.48,124.54 L373.58,123.27 L374.69,122.01 L375.81,120.77 L376.95,119.54 L378.09,118.32 L379.25,117.11 L380.42,115.91 L381.60,114.72 L382.78,113.54 L383.98,112.37 L385.19,111.20 L386.41,110.04 L387.63,108.89 L388.87,107.74 L390.11,106.60 L391.36,105.47 L392.61,104.33 L393.88,103.21 L395.15,102.08 L396.43,100.96 L397.71,99.83 L399.00,98.71 L400.29,97.60 L401.60,96.48 L402.90,95.37 L404.22,94.26 L405.54,93.16 L406.86,92.06 L408.19,90.97 L409.53,89.89 L410.87,88.81 L412.22,87.74 L413.58,86.68 L414.94,85.63 L416.31,84.59 L417.69,83.56 L419.07,82.54 L420.46,81.53 L421.85,80.54 L423.26,79.56 L424.66,78.59 L426.08,77.64 L427.50,76.70 L428.93,75.77 L430.37,74.87 L431.81,73.98 L433.26,73.10 L434.71,72.25 L436.17,71.42 L437.64,70.60 L439.12,69.80 L440.60,69.03 L442.10,68.28 L443.59,67.54 L445.10,66.83 L446.61,66.14 L448.13,65.47 L449.65,64.81 L451.19,64.16 L452.73,63.52 L454.27,62.88 L455.82,62.25 L457.38,61.61 L458.94,60.98 L460.51,60.35 L462.09,59.72 L463.67,59.09 L465.26,58.47 L466.85,57.85 L468.45,57.24 L470.05,56.64 L471.66,56.05 L473.27,55.47 L474.89,54.91 L476.51,54.37 L478.14,53.85 L479.77,53.35 L481.41,52.87 L483.05,52.42 L484.70,51.99 L486.34,51.60 L488.00,51.23 L489.65,50.88 L491.31,50.56 L492.98,50.26 L494.65,49.99 L496.32,49.73 L497.99,49.50 L499.67,49.28 L501.35,49.08 L503.03,48.90 L504.72,48.74 L506.41,48.59 L508.10,48.45 L509.79,48.33 L511.49,48.22 L513.19,48.12 L514.89,48.03 L516.59,47.94 L518.29,47.87 L520.00,47.80" stroke-dasharray="13 4.5 3 4.5" stroke-dashoffset="24.6"/>
<path d="M50.00,420.00 L50.21,419.38 L50.43,418.76 L50.64,418.13 L50.85,417.51 L51.06,416.89 L51.27,416.27 L51.47,415.65 L51.68,415.03 L51.89,414.41 L52.10,413.79 L52.30,413.17 L52.51,412.55 L52.71,411.93 L52.92,411.31 L53.13,410.69 L53.33,410.08 L53.54,409.46 L53.74,408.84 L53.95,408.22 L54.15,407.61 L54.36,406.99 L54.56,406.38 L54.77,405.76 L54.97,405.15 L55.18,404.53 L55.38,403.92 L55.59,403.30 L55.80,402.69 L56.00,402.08 L56.21,401.47 L56.42,400.85 L56.63,400.24 L56.84,399.63 L57.05,399.02 L57.26,398.41 L57.47,397.80 L57.68,397.19 L57.89,396.58 L58.10,395.97 L58.32,395.36 L58.53,394.75 L58.75,394.14 L58.97,393.53 L59.18,392.92 L59.40,392.32 L59.62,391.71 L59.84,391.10 L60.07,390.50 L60.29,389.89 L60.52,389.28 L60.74,388.68 L60.97,388.07 L61.20,387.47 L61.43,386.87 L61.66,386.26 L61.90,385.66 L62.13,385.05 L62.37,384.45 L62.61,383.85 L62.85,383.25 L63.09,382.64 L63.33,382.04 L63.58,381.44 L63.83,380.84 L64.08,380.24 L64.33,379.64 L64.58,379.04 L64.84,378.44 L65.09,377.84 L65.35,377.24 L65.62,376.64 L65.88,376.04 L66.15,375.45 L66.42,374.85 L66.69,374.25 L66.96,373.65 L67.24,373.06 L67.51,372.46 L67.80,371.86 L68.08,371.27 L68.36,370.67 L68.65,370.08 L68.94,369.48 L69.23,368.89 L69.52,368.29 L69.80,367.70 L70.09,367.10 L70.38,366.51 L70.66,365.92 L70.94,365.32 L71.22,364.73 L71.49,364.14 L71.76,363.54 L72.03,362.95 L72.29,362.35 L72.54,361.76 L72.79,361.17 L73.04,360.57 L73.28,359.98 L73.51,359.38 L73.74,358.79 L73.97,358.20 L74.19,357.60 L74.42,357.01 L74.64,356.41 L74.87,355.82 L75.10,355.22 L75.33,354.62 L75.56,354.03 L75.80,353.43 L76.04,352.83 L76.29,352.24 L76.54,351.64 L76.80,351.04 L77.07,350.44 L77.35,349.84 L77.64,349.24 L77.94,348.64 L78.25,348.04 L78.58,347.44 L78.91,346.84 L79.27,346.24 L79.63,345.63 L80.01,345.04 L80.41,344.44 L80.82,343.86 L81.24,343.30 L81.68,342.75 L82.13,342.23 L82.59,341.73 L83.06,341.26 L83.55,340.83 L84.04,340.44 L84.55,340.10 L85.07,339.79 L85.60,339.54 L86.13,339.33 L86.67,339.16 L87.22,339.04 L87.76,338.96 L88.31,338.92 L88.87,338.93 L89.42,338.98 L89.97,339.07 L90.52,339.21 L91.06,339.39 L91.60,339.61 L92.13,339.86 L92.65,340.16 L93.17,340.49 L93.68,340.85 L94.18,341.24 L94.67,341.64 L95.15,342.07 L95.63,342.51 L96.09,342.95 L96.55,343.41 L97.00,343.88 L97.44,344.36 L97.87,344.84 L98.29,345.34 L98.70,345.85 L99.11,346.36 L99.51,346.88 L99.90,347.41 L100.28,347.94 L100.66,348.49 L101.03,349.04 L101.39,349.60 L101.74,350.16 L102.09,350.73 L102.43,351.31 L102.76,351.89 L103.09,352.47 L103.41,353.06 L103.72,353.66 L104.03,354.26 L104.33,354.86 L104.63,355.47 L104.92,356.08 L105.20,356.70 L105.48,357.31 L105.75,357.93 L106.02,358.56 L106.29,359.18 L106.54,359.81 L106.80,360.43 L107.05,361.06 L107.29,361.69 L107.53,362.32 L107.77,362.95 L108.00,363.58 L108.23,364.21 L108.46,364.84 L108.68,365.46 L108.89,366.09 L109.11,366.72 L109.32,367.34 L109.53,367.96 L109.73,368.59 L109.93,369.21 L110.13,369.83 L110.33,370.44 L110.52,371.06 L110.71,371.68 L110.90,372.29 L111.09,372.91 L111.28,373.52 L111.46,374.14 L111.64,374.75 L111.83,375.36 L112.01,375.98 L112.18,376.59 L112.36,377.20 L112.54,377.81 L112.71,378.42 L112.89,379.03 L113.06,379.64 L113.24,380.25 L113.41,380.86 L113.59,381.47 L113.76,382.07 L113.94,382.68 L114.11,383.29 L114.29,383.90 L114.46,384.51 L114.64,385.12 L114.82,385.73 L114.99,386.34 L115.17,386.95 L115.35,387.56 L115.54,388.17 L115.72,388.78 L115.91,389.39 L116.09,390.01 L116.28,390.62 L116.47,391.23 L116.67,391.85 L116.86,392.46 L117.06,393.08 L117.26,393.69 L117.47,394.31 L117.67,394.93 L117.88,395.55 L118.09,396.17 L118.30,396.78 L118.51,397.41 L118.73,398.03 L118.94,398.65 L119.15,399.27 L119.37,399.89 L119.59,400.52 L119.80,401.14 L120.02,401.76 L120.23,402.39 L120.45,403.01 L120.66,403.64 L120.88,404.27 L121.09,404.89 L121.30,405.52 L121.51,406.15 L121.72,406.77 L121.93,407.40 L122.13,408.03 L122.34,408.66 L122.54,409.29 L122.74,409.91 L122.93,410.54 L123.13,411.17 L123.32,411.80 L123.50,412.43 L123.69,413.06 L123.87,413.69 L124.04,414.32 L124.22,414.95 L124.38,415.58 L124.55,416.21 L124.71,416.83 L124.86,417.46 L125.01,418.09 L125.16,418.72 L125.31,419.35 L125.45,419.98 L125.59,420.61 L125.73,421.24 L125.87,421.86 L126.02,422.49 L126.16,423.12 L126.30,423.75 L126.45,424.37 L126.60,425.00 L126.76,425.63 L126.92,426.25 L127.08,426.88 L127.25,427.50 L127.43,428.13 L127.61,428.75 L127.80,429.38 L128.00,430.00" stroke-dasharray="4 4.41" stroke-dashoffset="5.96"/>
</g>
<line x1="53.40" y1="430.0" x2="53.40" y2="419.4" stroke="#000" stroke-width="1.5"/>
<line x1="53.40" y1="7.8" x2="53.40" y2="18.4" stroke="#000" stroke-width="1.5"/>
<line x1="64.99" y1="430.0" x2="64.99" y2="423.4" stroke="#333" stroke-width="1.1"/>
<line x1="64.99" y1="7.8" x2="64.99" y2="14.399999999999999" stroke="#333" stroke-width="1.1"/>
<line x1="76.58" y1="430.0" x2="76.58" y2="423.4" stroke="#333" stroke-width="1.1"/>
<line x1="76.58" y1="7.8" x2="76.58" y2="14.399999999999999" stroke="#333" stroke-width="1.1"/>
<line x1="88.17" y1="430.0" x2="88.17" y2="423.4" stroke="#333" stroke-width="1.1"/>
<line x1="88.17" y1="7.8" x2="88.17" y2="14.399999999999999" stroke="#333" stroke-width="1.1"/>
<line x1="99.76" y1="430.0" x2="99.76" y2="423.4" stroke="#333" stroke-width="1.1"/>
<line x1="99.76" y1="7.8" x2="99.76" y2="14.399999999999999" stroke="#333" stroke-width="1.1"/>
<line x1="111.35" y1="430.0" x2="111.35" y2="419.4" stroke="#000" stroke-width="1.5"/>
<line x1="111.35" y1="7.8" x2="111.35" y2="18.4" stroke="#000" stroke-width="1.5"/>
<line x1="122.94" y1="430.0" x2="122.94" y2="423.4" stroke="#333" stroke-width="1.1"/>
<line x1="122.94" y1="7.8" x2="122.94" y2="14.399999999999999" stroke="#333" stroke-width="1.1"/>
<line x1="134.53" y1="430.0" x2="134.53" y2="423.4" stroke="#333" stroke-width="1.1"/>
<line x1="134.53" y1="7.8" x2="134.53" y2="14.399999999999999" stroke="#333" stroke-width="1.1"/>
<line x1="146.12" y1="430.0" x2="146.12" y2="423.4" stroke="#333" stroke-width="1.1"/>
<line x1="146.12" y1="7.8" x2="146.12" y2="14.399999999999999" stroke="#333" stroke-width="1.1"/>
<line x1="157.71" y1="430.0" x2="157.71" y2="423.4" stroke="#333" stroke-width="1.1"/>
<line x1="157.71" y1="7.8" x2="157.71" y2="14.399999999999999" stroke="#333" stroke-width="1.1"/>
<line x1="169.30" y1="430.0" x2="169.30" y2="419.4" stroke="#000" stroke-width="1.5"/>
<line x1="169.30" y1="7.8" x2="169.30" y2="18.4" stroke="#000" stroke-width="1.5"/>
<line x1="180.89" y1="430.0" x2="180.89" y2="423.4" stroke="#333" stroke-width="1.1"/>
<line x1="180.89" y1="7.8" x2="180.89" y2="14.399999999999999" stroke="#333" stroke-width="1.1"/>
<line x1="192.48" y1="430.0" x2="192.48" y2="423.4" stroke="#333" stroke-width="1.1"/>
<line x1="192.48" y1="7.8" x2="192.48" y2="14.399999999999999" stroke="#333" stroke-width="1.1"/>
<line x1="204.07" y1="430.0" x2="204.07" y2="423.4" stroke="#333" stroke-width="1.1"/>
<line x1="204.07" y1="7.8" x2="204.07" y2="14.399999999999999" stroke="#333" stroke-width="1.1"/>
<line x1="215.66" y1="430.0" x2="215.66" y2="423.4" stroke="#333" stroke-width="1.1"/>
<line x1="215.66" y1="7.8" x2="215.66" y2="14.399999999999999" stroke="#333" stroke-width="1.1"/>
<line x1="227.25" y1="430.0" x2="227.25" y2="419.4" stroke="#000" stroke-width="1.5"/>
<line x1="227.25" y1="7.8" x2="227.25" y2="18.4" stroke="#000" stroke-width="1.5"/>
<line x1="238.84" y1="430.0" x2="238.84" y2="423.4" stroke="#333" stroke-width="1.1"/>
<line x1="238.84" y1="7.8" x2="238.84" y2="14.399999999999999" stroke="#333" stroke-width="1.1"/>
<line x1="250.43" y1="430.0" x2="250.43" y2="423.4" stroke="#333" stroke-width="1.1"/>
<line x1="250.43" y1="7.8" x2="250.43" y2="14.399999999999999" stroke="#333" stroke-width="1.1"/>
<line x1="262.02" y1="430.0" x2="262.02" y2="423.4" stroke="#333" stroke-width="1.1"/>
<line x1="262.02" y1="7.8" x2="262.02" y2="14.399999999999999" stroke="#333" stroke-width="1.1"/>
<line x1="273.61" y1="430.0" x2="273.61" y2="423.4" stroke="#333" stroke-width="1.1"/>
<line x1="273.61" y1="7.8" x2="273.61" y2="14.399999999999999" stroke="#333" stroke-width="1.1"/>
<line x1="285.20" y1="430.0" x2="285.20" y2="419.4" stroke="#000" stroke-width="1.5"/>
<line x1="285.20" y1="7.8" x2="285.20" y2="18.4" stroke="#000" stroke-width="1.5"/>
<line x1="296.79" y1="430.0" x2="296.79" y2="423.4" stroke="#333" stroke-width="1.1"/>
<line x1="296.79" y1="7.8" x2="296.79" y2="14.399999999999999" stroke="#333" stroke-width="1.1"/>
<line x1="308.38" y1="430.0" x2="308.38" y2="423.4" stroke="#333" stroke-width="1.1"/>
<line x1="308.38" y1="7.8" x2="308.38" y2="14.399999999999999" stroke="#333" stroke-width="1.1"/>
<line x1="319.97" y1="430.0" x2="319.97" y2="423.4" stroke="#333" stroke-width="1.1"/>
<line x1="319.97" y1="7.8" x2="319.97" y2="14.399999999999999" stroke="#333" stroke-width="1.1"/>
<line x1="331.56" y1="430.0" x2="331.56" y2="423.4" stroke="#333" stroke-width="1.1"/>
<line x1="331.56" y1="7.8" x2="331.56" y2="14.399999999999999" stroke="#333" stroke-width="1.1"/>
<line x1="343.15" y1="430.0" x2="343.15" y2="419.4" stroke="#000" stroke-width="1.5"/>
<line x1="343.15" y1="7.8" x2="343.15" y2="18.4" stroke="#000" stroke-width="1.5"/>
<line x1="354.74" y1="430.0" x2="354.74" y2="423.4" stroke="#333" stroke-width="1.1"/>
<line x1="354.74" y1="7.8" x2="354.74" y2="14.399999999999999" stroke="#333" stroke-width="1.1"/>
<line x1="366.33" y1="430.0" x2="366.33" y2="423.4" stroke="#333" stroke-width="1.1"/>
<line x1="366.33" y1="7.8" x2="366.33" y2="14.399999999999999" stroke="#333" stroke-width="1.1"/>
<line x1="377.92" y1="430.0" x2="377.92" y2="423.4" stroke="#333" stroke-width="1.1"/>
<line x1="377.92" y1="7.8" x2="377.92" y2="14.399999999999999" stroke="#333" stroke-width="1.1"/>
<line x1="389.51" y1="430.0" x2="389.51" y2="423.4" stroke="#333" stroke-width="1.1"/>
<line x1="389.51" y1="7.8" x2="389.51" y2="14.399999999999999" stroke="#333" stroke-width="1.1"/>
<line x1="401.10" y1="430.0" x2="401.10" y2="419.4" stroke="#000" stroke-width="1.5"/>
<line x1="401.10" y1="7.8" x2="401.10" y2="18.4" stroke="#000" stroke-width="1.5"/>
<line x1="412.69" y1="430.0" x2="412.69" y2="423.4" stroke="#333" stroke-width="1.1"/>
<line x1="412.69" y1="7.8" x2="412.69" y2="14.399999999999999" stroke="#333" stroke-width="1.1"/>
<line x1="424.28" y1="430.0" x2="424.28" y2="423.4" stroke="#333" stroke-width="1.1"/>
<line x1="424.28" y1="7.8" x2="424.28" y2="14.399999999999999" stroke="#333" stroke-width="1.1"/>
<line x1="435.87" y1="430.0" x2="435.87" y2="423.4" stroke="#333" stroke-width="1.1"/>
<line x1="435.87" y1="7.8" x2="435.87" y2="14.399999999999999" stroke="#333" stroke-width="1.1"/>
<line x1="447.46" y1="430.0" x2="447.46" y2="423.4" stroke="#333" stroke-width="1.1"/>
<line x1="447.46" y1="7.8" x2="447.46" y2="14.399999999999999" stroke="#333" stroke-width="1.1"/>
<line x1="459.05" y1="430.0" x2="459.05" y2="419.4" stroke="#000" stroke-width="1.5"/>
<line x1="459.05" y1="7.8" x2="459.05" y2="18.4" stroke="#000" stroke-width="1.5"/>
<line x1="470.64" y1="430.0" x2="470.64" y2="423.4" stroke="#333" stroke-width="1.1"/>
<line x1="470.64" y1="7.8" x2="470.64" y2="14.399999999999999" stroke="#333" stroke-width="1.1"/>
<line x1="482.23" y1="430.0" x2="482.23" y2="423.4" stroke="#333" stroke-width="1.1"/>
<line x1="482.23" y1="7.8" x2="482.23" y2="14.399999999999999" stroke="#333" stroke-width="1.1"/>
<line x1="493.82" y1="430.0" x2="493.82" y2="423.4" stroke="#333" stroke-width="1.1"/>
<line x1="493.82" y1="7.8" x2="493.82" y2="14.399999999999999" stroke="#333" stroke-width="1.1"/>
<line x1="505.41" y1="430.0" x2="505.41" y2="423.4" stroke="#333" stroke-width="1.1"/>
<line x1="505.41" y1="7.8" x2="505.41" y2="14.399999999999999" stroke="#333" stroke-width="1.1"/>
<line x1="517.00" y1="430.0" x2="517.00" y2="419.4" stroke="#000" stroke-width="1.5"/>
<line x1="517.00" y1="7.8" x2="517.00" y2="18.4" stroke="#000" stroke-width="1.5"/>
<line x1="53.4" y1="430.00" x2="64.0" y2="430.00" stroke="#000" stroke-width="1.5"/>
<line x1="517.0" y1="430.00" x2="506.4" y2="430.00" stroke="#000" stroke-width="1.5"/>
<line x1="53.4" y1="420.62" x2="60.0" y2="420.62" stroke="#333" stroke-width="1.1"/>
<line x1="517.0" y1="420.62" x2="510.4" y2="420.62" stroke="#333" stroke-width="1.1"/>
<line x1="53.4" y1="411.24" x2="60.0" y2="411.24" stroke="#333" stroke-width="1.1"/>
<line x1="517.0" y1="411.24" x2="510.4" y2="411.24" stroke="#333" stroke-width="1.1"/>
<line x1="53.4" y1="401.85" x2="60.0" y2="401.85" stroke="#333" stroke-width="1.1"/>
<line x1="517.0" y1="401.85" x2="510.4" y2="401.85" stroke="#333" stroke-width="1.1"/>
<line x1="53.4" y1="392.47" x2="60.0" y2="392.47" stroke="#333" stroke-width="1.1"/>
<line x1="517.0" y1="392.47" x2="510.4" y2="392.47" stroke="#333" stroke-width="1.1"/>
<line x1="53.4" y1="383.09" x2="64.0" y2="383.09" stroke="#000" stroke-width="1.5"/>
<line x1="517.0" y1="383.09" x2="506.4" y2="383.09" stroke="#000" stroke-width="1.5"/>
<line x1="53.4" y1="373.71" x2="60.0" y2="373.71" stroke="#333" stroke-width="1.1"/>
<line x1="517.0" y1="373.71" x2="510.4" y2="373.71" stroke="#333" stroke-width="1.1"/>
<line x1="53.4" y1="364.32" x2="60.0" y2="364.32" stroke="#333" stroke-width="1.1"/>
<line x1="517.0" y1="364.32" x2="510.4" y2="364.32" stroke="#333" stroke-width="1.1"/>
<line x1="53.4" y1="354.94" x2="60.0" y2="354.94" stroke="#333" stroke-width="1.1"/>
<line x1="517.0" y1="354.94" x2="510.4" y2="354.94" stroke="#333" stroke-width="1.1"/>
<line x1="53.4" y1="345.56" x2="60.0" y2="345.56" stroke="#333" stroke-width="1.1"/>
<line x1="517.0" y1="345.56" x2="510.4" y2="345.56" stroke="#333" stroke-width="1.1"/>
<line x1="53.4" y1="336.18" x2="64.0" y2="336.18" stroke="#000" stroke-width="1.5"/>
<line x1="517.0" y1="336.18" x2="506.4" y2="336.18" stroke="#000" stroke-width="1.5"/>
<line x1="53.4" y1="326.80" x2="60.0" y2="326.80" stroke="#333" stroke-width="1.1"/>
<line x1="517.0" y1="326.80" x2="510.4" y2="326.80" stroke="#333" stroke-width="1.1"/>
<line x1="53.4" y1="317.41" x2="60.0" y2="317.41" stroke="#333" stroke-width="1.1"/>
<line x1="517.0" y1="317.41" x2="510.4" y2="317.41" stroke="#333" stroke-width="1.1"/>
<line x1="53.4" y1="308.03" x2="60.0" y2="308.03" stroke="#333" stroke-width="1.1"/>
<line x1="517.0" y1="308.03" x2="510.4" y2="308.03" stroke="#333" stroke-width="1.1"/>
<line x1="53.4" y1="298.65" x2="60.0" y2="298.65" stroke="#333" stroke-width="1.1"/>
<line x1="517.0" y1="298.65" x2="510.4" y2="298.65" stroke="#333" stroke-width="1.1"/>
<line x1="53.4" y1="289.27" x2="64.0" y2="289.27" stroke="#000" stroke-width="1.5"/>
<line x1="517.0" y1="289.27" x2="506.4" y2="289.27" stroke="#000" stroke-width="1.5"/>
<line x1="53.4" y1="279.88" x2="60.0" y2="279.88" stroke="#333" stroke-width="1.1"/>
<line x1="517.0" y1="279.88" x2="510.4" y2="279.88" stroke="#333" stroke-width="1.1"/>
<line x1="53.4" y1="270.50" x2="60.0" y2="270.50" stroke="#333" stroke-width="1.1"/>
<line x1="517.0" y1="270.50" x2="510.4" y2="270.50" stroke="#333" stroke-width="1.1"/>
<line x1="53.4" y1="261.12" x2="60.0" y2="261.12" stroke="#333" stroke-width="1.1"/>
<line x1="517.0" y1="261.12" x2="510.4" y2="261.12" stroke="#333" stroke-width="1.1"/>
<line x1="53.4" y1="251.74" x2="60.0" y2="251.74" stroke="#333" stroke-width="1.1"/>
<line x1="517.0" y1="251.74" x2="510.4" y2="251.74" stroke="#333" stroke-width="1.1"/>
<line x1="53.4" y1="242.36" x2="64.0" y2="242.36" stroke="#000" stroke-width="1.5"/>
<line x1="517.0" y1="242.36" x2="506.4" y2="242.36" stroke="#000" stroke-width="1.5"/>
<line x1="53.4" y1="232.97" x2="60.0" y2="232.97" stroke="#333" stroke-width="1.1"/>
<line x1="517.0" y1="232.97" x2="510.4" y2="232.97" stroke="#333" stroke-width="1.1"/>
<line x1="53.4" y1="223.59" x2="60.0" y2="223.59" stroke="#333" stroke-width="1.1"/>
<line x1="517.0" y1="223.59" x2="510.4" y2="223.59" stroke="#333" stroke-width="1.1"/>
<line x1="53.4" y1="214.21" x2="60.0" y2="214.21" stroke="#333" stroke-width="1.1"/>
<line x1="517.0" y1="214.21" x2="510.4" y2="214.21" stroke="#333" stroke-width="1.1"/>
<line x1="53.4" y1="204.83" x2="60.0" y2="204.83" stroke="#333" stroke-width="1.1"/>
<line x1="517.0" y1="204.83" x2="510.4" y2="204.83" stroke="#333" stroke-width="1.1"/>
<line x1="53.4" y1="195.44" x2="64.0" y2="195.44" stroke="#000" stroke-width="1.5"/>
<line x1="517.0" y1="195.44" x2="506.4" y2="195.44" stroke="#000" stroke-width="1.5"/>
<line x1="53.4" y1="186.06" x2="60.0" y2="186.06" stroke="#333" stroke-width="1.1"/>
<line x1="517.0" y1="186.06" x2="510.4" y2="186.06" stroke="#333" stroke-width="1.1"/>
<line x1="53.4" y1="176.68" x2="60.0" y2="176.68" stroke="#333" stroke-width="1.1"/>
<line x1="517.0" y1="176.68" x2="510.4" y2="176.68" stroke="#333" stroke-width="1.1"/>
<line x1="53.4" y1="167.30" x2="60.0" y2="167.30" stroke="#333" stroke-width="1.1"/>
<line x1="517.0" y1="167.30" x2="510.4" y2="167.30" stroke="#333" stroke-width="1.1"/>
<line x1="53.4" y1="157.92" x2="60.0" y2="157.92" stroke="#333" stroke-width="1.1"/>
<line x1="517.0" y1="157.92" x2="510.4" y2="157.92" stroke="#333" stroke-width="1.1"/>
<line x1="53.4" y1="148.53" x2="64.0" y2="148.53" stroke="#000" stroke-width="1.5"/>
<line x1="517.0" y1="148.53" x2="506.4" y2="148.53" stroke="#000" stroke-width="1.5"/>
<line x1="53.4" y1="139.15" x2="60.0" y2="139.15" stroke="#333" stroke-width="1.1"/>
<line x1="517.0" y1="139.15" x2="510.4" y2="139.15" stroke="#333" stroke-width="1.1"/>
<line x1="53.4" y1="129.77" x2="60.0" y2="129.77" stroke="#333" stroke-width="1.1"/>
<line x1="517.0" y1="129.77" x2="510.4" y2="129.77" stroke="#333" stroke-width="1.1"/>
<line x1="53.4" y1="120.39" x2="60.0" y2="120.39" stroke="#333" stroke-width="1.1"/>
<line x1="517.0" y1="120.39" x2="510.4" y2="120.39" stroke="#333" stroke-width="1.1"/>
<line x1="53.4" y1="111.00" x2="60.0" y2="111.00" stroke="#333" stroke-width="1.1"/>
<line x1="517.0" y1="111.00" x2="510.4" y2="111.00" stroke="#333" stroke-width="1.1"/>
<line x1="53.4" y1="101.62" x2="64.0" y2="101.62" stroke="#000" stroke-width="1.5"/>
<line x1="517.0" y1="101.62" x2="506.4" y2="101.62" stroke="#000" stroke-width="1.5"/>
<line x1="53.4" y1="92.24" x2="60.0" y2="92.24" stroke="#333" stroke-width="1.1"/>
<line x1="517.0" y1="92.24" x2="510.4" y2="92.24" stroke="#333" stroke-width="1.1"/>
<line x1="53.4" y1="82.86" x2="60.0" y2="82.86" stroke="#333" stroke-width="1.1"/>
<line x1="517.0" y1="82.86" x2="510.4" y2="82.86" stroke="#333" stroke-width="1.1"/>
<line x1="53.4" y1="73.48" x2="60.0" y2="73.48" stroke="#333" stroke-width="1.1"/>
<line x1="517.0" y1="73.48" x2="510.4" y2="73.48" stroke="#333" stroke-width="1.1"/>
<line x1="53.4" y1="64.09" x2="60.0" y2="64.09" stroke="#333" stroke-width="1.1"/>
<line x1="517.0" y1="64.09" x2="510.4" y2="64.09" stroke="#333" stroke-width="1.1"/>
<line x1="53.4" y1="54.71" x2="64.0" y2="54.71" stroke="#000" stroke-width="1.5"/>
<line x1="517.0" y1="54.71" x2="506.4" y2="54.71" stroke="#000" stroke-width="1.5"/>
<line x1="53.4" y1="45.33" x2="60.0" y2="45.33" stroke="#333" stroke-width="1.1"/>
<line x1="517.0" y1="45.33" x2="510.4" y2="45.33" stroke="#333" stroke-width="1.1"/>
<line x1="53.4" y1="35.95" x2="60.0" y2="35.95" stroke="#333" stroke-width="1.1"/>
<line x1="517.0" y1="35.95" x2="510.4" y2="35.95" stroke="#333" stroke-width="1.1"/>
<line x1="53.4" y1="26.56" x2="60.0" y2="26.56" stroke="#333" stroke-width="1.1"/>
<line x1="517.0" y1="26.56" x2="510.4" y2="26.56" stroke="#333" stroke-width="1.1"/>
<line x1="53.4" y1="17.18" x2="60.0" y2="17.18" stroke="#333" stroke-width="1.1"/>
<line x1="517.0" y1="17.18" x2="510.4" y2="17.18" stroke="#333" stroke-width="1.1"/>
<line x1="53.4" y1="7.80" x2="64.0" y2="7.80" stroke="#000" stroke-width="1.5"/>
<line x1="517.0" y1="7.80" x2="506.4" y2="7.80" stroke="#000" stroke-width="1.5"/>
<rect x="53.4" y="7.8" width="463.60" height="422.20" fill="none" stroke="#000" stroke-width="1.7"/>
<g font-family="Liberation Sans, Arial, sans-serif" font-size="16.5" fill="#000"><text x="46.8" y="436.60" text-anchor="end">0</text><text x="46.8" y="389.69" text-anchor="end">1</text><text x="46.8" y="342.78" text-anchor="end">2</text><text x="46.8" y="295.87" text-anchor="end">3</text><text x="46.8" y="248.96" text-anchor="end">4</text><text x="46.8" y="202.04" text-anchor="end">5</text><text x="46.8" y="155.13" text-anchor="end">6</text><text x="46.8" y="108.22" text-anchor="end">7</text><text x="46.8" y="61.31" text-anchor="end">8</text><text x="46.8" y="14.40" text-anchor="end">9</text><text x="53.40" y="447.6" text-anchor="middle">0.2</text><text x="111.35" y="447.6" text-anchor="middle">0.3</text><text x="169.30" y="447.6" text-anchor="middle">0.4</text><text x="227.25" y="447.6" text-anchor="middle">0.5</text><text x="285.20" y="447.6" text-anchor="middle">0.6</text><text x="343.15" y="447.6" text-anchor="middle">0.7</text><text x="401.10" y="447.6" text-anchor="middle">0.8</text><text x="459.05" y="447.6" text-anchor="middle">0.9</text><text x="517.00" y="447.6" text-anchor="middle">1</text></g>
<text x="285" y="468" text-anchor="middle" font-family="Liberation Sans, Arial, sans-serif" font-weight="bold" font-size="20">s (m)</text>
<text transform="translate(16.4,219) rotate(-90)" text-anchor="middle" font-family="Liberation Sans, Arial, sans-serif" font-weight="bold" font-size="20">N</text>
<rect x="93.7" y="45.4" width="189.3" height="72.3" fill="#fff" stroke="#4a4a4a" stroke-width="1.1"/>
<line x1="109.2" y1="75.85" x2="183.8" y2="75.85" stroke="#000" stroke-width="1.7" stroke-dasharray="12 4 3 4.3"/>
<line x1="109.2" y1="95.7" x2="183.3" y2="95.7" stroke="#000" stroke-width="1.7" stroke-dasharray="4 3.78"/>
<g font-family="Liberation Sans, Arial, sans-serif" font-weight="bold" font-size="16" letter-spacing="0.3" fill="#000"><text x="196.6" y="81.4">500kHz</text><text x="196.6" y="100.6">1000 kHz</text></g>
</svg>
</body></html>
